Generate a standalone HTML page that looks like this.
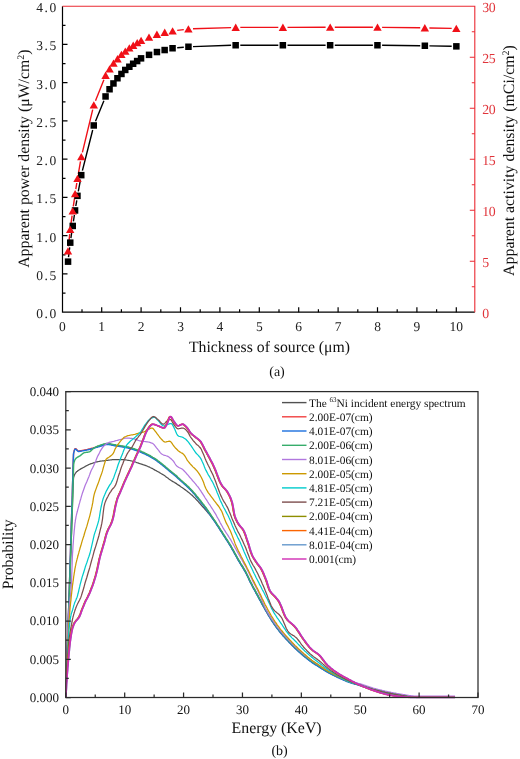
<!DOCTYPE html>
<html><head><meta charset="utf-8"><title>Figure</title>
<style>html,body{margin:0;padding:0;background:#fff}svg{display:block}</style></head>
<body>
<svg width="520" height="759" viewBox="0 0 520 759" text-rendering="geometricPrecision">
<rect width="520" height="759" fill="#fff"/>
<g stroke="#000" stroke-width="1.2" fill="none">
<path d="M62.5 6.2V312.2H474.8"/>
<path d="M62.5 293.07h3M62.5 273.95h5M62.5 254.82h3M62.5 235.70h5M62.5 216.57h3M62.5 197.45h5M62.5 178.32h3M62.5 159.20h5M62.5 140.07h3M62.5 120.95h5M62.5 101.82h3M62.5 82.70h5M62.5 63.57h3M62.5 44.45h5M62.5 25.32h3M82.00 312.2v-3M101.70 312.2v-5M121.40 312.2v-3M141.10 312.2v-5M160.80 312.2v-3M180.50 312.2v-5M200.20 312.2v-3M219.90 312.2v-5M239.60 312.2v-3M259.30 312.2v-5M279.00 312.2v-3M298.70 312.2v-5M318.40 312.2v-3M338.10 312.2v-5M357.80 312.2v-3M377.50 312.2v-5M397.20 312.2v-3M416.90 312.2v-5M436.60 312.2v-3M456.30 312.2v-5"/>
</g>
<g stroke="#ea2a33" stroke-width="1.1" fill="none">
<path d="M62.5 6.2H474.8V312.2"/>
<path d="M474.8 286.70h-3M474.8 261.20h-5M474.8 235.70h-3M474.8 210.20h-5M474.8 184.70h-3M474.8 159.20h-5M474.8 133.70h-3M474.8 108.20h-5M474.8 82.70h-3M474.8 57.20h-5M474.8 31.70h-3"/>
</g>
<g style="font-family:'Liberation Serif',serif;font-size:13.5px" fill="#222">
<text x="56.2" y="318.2" text-anchor="end">0<tspan dx="1.3">.</tspan><tspan dx="1.7">0</tspan></text>
<text x="56.2" y="279.9" text-anchor="end">0<tspan dx="1.3">.</tspan><tspan dx="1.7">5</tspan></text>
<text x="56.2" y="241.7" text-anchor="end">1<tspan dx="1.3">.</tspan><tspan dx="1.7">0</tspan></text>
<text x="56.2" y="203.4" text-anchor="end">1<tspan dx="1.3">.</tspan><tspan dx="1.7">5</tspan></text>
<text x="56.2" y="165.2" text-anchor="end">2<tspan dx="1.3">.</tspan><tspan dx="1.7">0</tspan></text>
<text x="56.2" y="126.9" text-anchor="end">2<tspan dx="1.3">.</tspan><tspan dx="1.7">5</tspan></text>
<text x="56.2" y="88.7" text-anchor="end">3<tspan dx="1.3">.</tspan><tspan dx="1.7">0</tspan></text>
<text x="56.2" y="50.4" text-anchor="end">3<tspan dx="1.3">.</tspan><tspan dx="1.7">5</tspan></text>
<text x="56.2" y="12.2" text-anchor="end">4<tspan dx="1.3">.</tspan><tspan dx="1.7">0</tspan></text>
<text x="62.3" y="330.5" text-anchor="middle">0</text>
<text x="101.7" y="330.5" text-anchor="middle">1</text>
<text x="141.1" y="330.5" text-anchor="middle">2</text>
<text x="180.5" y="330.5" text-anchor="middle">3</text>
<text x="219.9" y="330.5" text-anchor="middle">4</text>
<text x="259.3" y="330.5" text-anchor="middle">5</text>
<text x="298.7" y="330.5" text-anchor="middle">6</text>
<text x="338.1" y="330.5" text-anchor="middle">7</text>
<text x="377.5" y="330.5" text-anchor="middle">8</text>
<text x="416.9" y="330.5" text-anchor="middle">9</text>
<text x="456.3" y="330.5" text-anchor="middle">10</text>
</g>
<g style="font-family:'Liberation Serif',serif;font-size:13.8px" fill="#e0343a">
<text x="482.3" y="317.7" letter-spacing="-0.4">0</text>
<text x="482.3" y="266.7" letter-spacing="-0.4">5</text>
<text x="482.3" y="215.7" letter-spacing="-0.4">10</text>
<text x="482.3" y="164.7" letter-spacing="-0.4">15</text>
<text x="482.3" y="113.7" letter-spacing="-0.4">20</text>
<text x="482.3" y="62.7" letter-spacing="-0.4">25</text>
<text x="482.3" y="11.7" letter-spacing="-0.4">30</text>
</g>
<g style="font-family:'Liberation Serif',serif" fill="#111">
<text transform="translate(29.3 267.8) rotate(-90)" text-anchor="start" font-size="15.8">Apparent power density (μW/cm<tspan dy="-5" font-size="10">2</tspan><tspan dy="5">)</tspan></text>
<text transform="translate(514.1 275.9) rotate(-90)" text-anchor="start" font-size="15.85">Apparent activity density (mCi/cm<tspan dy="-5" font-size="10">2</tspan><tspan dy="5">)</tspan></text>
<text x="269.5" y="352.1" text-anchor="middle" font-size="15.75">Thickness of source (μm)</text>
<text x="277" y="375.8" text-anchor="middle" font-size="14">(a)</text>
</g>
<path d="M68.5 257.1L69.7 247.3M70.9 238.2L72.0 230.4M73.4 221.4L74.4 215.0M75.8 206.0L76.8 200.3M78.3 191.3L80.5 179.7M82.4 170.7L92.7 130.0M95.5 121.2L103.9 100.7M177.2 47.8L183.8 47.2M193.0 46.6L231.1 45.3M240.3 45.2L278.3 45.2M287.5 45.2L325.6 45.2M334.8 45.2L372.9 45.2M382.1 45.3L420.2 45.7M429.4 45.9L451.7 46.3" fill="none" stroke="#000" stroke-width="1.4"/>
<path d="M68.5 246.4L69.7 234.1M70.8 224.9L72.1 215.6M73.3 206.4L74.5 198.3M75.8 189.2L76.8 183.0M78.3 174.0L80.5 161.3M82.4 152.3L92.7 109.6M95.5 100.8L103.9 79.7M177.2 30.4L183.8 29.6M193.0 28.8L231.1 27.6M240.3 27.4L278.3 27.4M287.5 27.4L325.6 27.3M334.8 27.3L372.9 27.3M382.1 27.4L420.2 27.8M429.4 28.0L451.7 28.4" fill="none" stroke="#f01018" stroke-width="1.4"/>
<rect x="64.8" y="258.4" width="6.5" height="6.5" fill="#000"/>
<rect x="67.0" y="239.4" width="6.5" height="6.5" fill="#000"/>
<rect x="69.5" y="222.7" width="6.5" height="6.5" fill="#000"/>
<rect x="71.8" y="207.2" width="6.5" height="6.5" fill="#000"/>
<rect x="74.2" y="192.6" width="6.5" height="6.5" fill="#000"/>
<rect x="78.0" y="171.9" width="6.5" height="6.5" fill="#000"/>
<rect x="90.5" y="122.2" width="6.5" height="6.5" fill="#000"/>
<rect x="102.3" y="93.2" width="6.5" height="6.5" fill="#000"/>
<rect x="106.3" y="86.0" width="6.5" height="6.5" fill="#000"/>
<rect x="110.2" y="80.2" width="6.5" height="6.5" fill="#000"/>
<rect x="114.2" y="75.0" width="6.5" height="6.5" fill="#000"/>
<rect x="118.2" y="70.7" width="6.5" height="6.5" fill="#000"/>
<rect x="122.0" y="66.7" width="6.5" height="6.5" fill="#000"/>
<rect x="126.1" y="63.5" width="6.5" height="6.5" fill="#000"/>
<rect x="129.9" y="60.5" width="6.5" height="6.5" fill="#000"/>
<rect x="133.9" y="57.8" width="6.5" height="6.5" fill="#000"/>
<rect x="137.8" y="55.1" width="6.5" height="6.5" fill="#000"/>
<rect x="145.8" y="51.6" width="6.5" height="6.5" fill="#000"/>
<rect x="153.7" y="48.8" width="6.5" height="6.5" fill="#000"/>
<rect x="161.4" y="46.8" width="6.5" height="6.5" fill="#000"/>
<rect x="169.3" y="45.0" width="6.5" height="6.5" fill="#000"/>
<rect x="185.2" y="43.5" width="6.5" height="6.5" fill="#000"/>
<rect x="232.4" y="42.0" width="6.5" height="6.5" fill="#000"/>
<rect x="279.6" y="42.0" width="6.5" height="6.5" fill="#000"/>
<rect x="326.9" y="42.0" width="6.5" height="6.5" fill="#000"/>
<rect x="374.2" y="42.0" width="6.5" height="6.5" fill="#000"/>
<rect x="421.6" y="42.5" width="6.5" height="6.5" fill="#000"/>
<rect x="453.1" y="43.1" width="6.5" height="6.5" fill="#000"/>
<path d="M68.0 247.2L72.2 254.5H63.8Z" fill="#f01018"/>
<path d="M70.2 225.7L74.4 233.0H66.0Z" fill="#f01018"/>
<path d="M72.7 207.2L76.9 214.5H68.5Z" fill="#f01018"/>
<path d="M75.1 189.9L79.3 197.2H70.9Z" fill="#f01018"/>
<path d="M77.5 174.7L81.7 182.0H73.3Z" fill="#f01018"/>
<path d="M81.3 153.0L85.5 160.3H77.1Z" fill="#f01018"/>
<path d="M93.8 101.3L98.0 108.6H89.6Z" fill="#f01018"/>
<path d="M105.6 71.6L109.8 78.9H101.4Z" fill="#f01018"/>
<path d="M109.6 65.2L113.8 72.5H105.4Z" fill="#f01018"/>
<path d="M113.5 59.5L117.7 66.8H109.3Z" fill="#f01018"/>
<path d="M117.5 55.1L121.7 62.4H113.3Z" fill="#f01018"/>
<path d="M121.4 50.8L125.6 58.1H117.2Z" fill="#f01018"/>
<path d="M125.3 47.4L129.5 54.7H121.1Z" fill="#f01018"/>
<path d="M129.3 44.2L133.5 51.5H125.1Z" fill="#f01018"/>
<path d="M133.2 41.6L137.4 48.9H129.0Z" fill="#f01018"/>
<path d="M137.2 39.0L141.4 46.3H133.0Z" fill="#f01018"/>
<path d="M141.1 36.7L145.3 44.0H136.9Z" fill="#f01018"/>
<path d="M149.0 33.5L153.2 40.8H144.8Z" fill="#f01018"/>
<path d="M156.9 30.6L161.1 37.9H152.7Z" fill="#f01018"/>
<path d="M164.7 28.6L168.9 35.9H160.5Z" fill="#f01018"/>
<path d="M172.6 27.2L176.8 34.5H168.4Z" fill="#f01018"/>
<path d="M188.4 25.2L192.6 32.5H184.2Z" fill="#f01018"/>
<path d="M235.7 23.6L239.9 30.9H231.5Z" fill="#f01018"/>
<path d="M282.9 23.6L287.1 30.9H278.7Z" fill="#f01018"/>
<path d="M330.2 23.5L334.4 30.8H326.0Z" fill="#f01018"/>
<path d="M377.5 23.5L381.7 30.8H373.3Z" fill="#f01018"/>
<path d="M424.8 24.1L429.0 31.4H420.6Z" fill="#f01018"/>
<path d="M456.3 24.7L460.5 32.0H452.1Z" fill="#f01018"/>
<g style="font-family:'Liberation Serif',serif;font-size:13px" fill="#111">
<text x="59" y="701.9" text-anchor="end">0.000</text>
<text x="59" y="663.7" text-anchor="end">0.005</text>
<text x="59" y="625.4" text-anchor="end">0.010</text>
<text x="59" y="587.2" text-anchor="end">0.015</text>
<text x="59" y="548.9" text-anchor="end">0.020</text>
<text x="59" y="510.7" text-anchor="end">0.025</text>
<text x="59" y="472.5" text-anchor="end">0.030</text>
<text x="59" y="434.2" text-anchor="end">0.035</text>
<text x="59" y="396.0" text-anchor="end">0.040</text>
<text x="65.8" y="713.7" text-anchor="middle">0</text>
<text x="124.7" y="713.7" text-anchor="middle">10</text>
<text x="183.6" y="713.7" text-anchor="middle">20</text>
<text x="242.5" y="713.7" text-anchor="middle">30</text>
<text x="301.3" y="713.7" text-anchor="middle">40</text>
<text x="360.2" y="713.7" text-anchor="middle">50</text>
<text x="419.1" y="713.7" text-anchor="middle">60</text>
<text x="478.0" y="713.7" text-anchor="middle">70</text>
<text transform="translate(13 554.3) rotate(-90)" text-anchor="middle" font-size="15.75">Probability</text>
<text x="276.6" y="732.6" text-anchor="middle" font-size="15.9">Energy (KeV)</text>
<text x="279.6" y="754.5" text-anchor="middle" font-size="14">(b)</text>
</g>
<clipPath id="cb"><rect x="65.8" y="391.6" width="412.2" height="306.9"/></clipPath>
<g clip-path="url(#cb)" fill="none" stroke-linejoin="round">
<path d="M65.8 697.4 L66.0 690.6 L66.3 683.7 L66.5 676.9 L66.8 670.0 L67.0 663.2 L67.2 656.3 L67.5 649.5 L67.7 642.7 L68.0 635.8 L68.2 629.0 L68.4 622.1 L68.7 615.3 L68.9 608.5 L69.2 601.6 L69.4 594.8 L69.7 587.9 L69.9 581.1 L70.1 574.2 L70.4 567.4 L70.6 560.6 L70.9 553.7 L71.1 546.9 L71.3 540.0 L71.6 533.2 L71.8 526.3 L72.1 519.5 L72.3 512.7 L72.5 505.5 L72.8 497.1 L73.0 488.7 L73.3 482.0 L73.5 478.5 L73.7 477.2 L74.0 476.2 L74.2 475.5 L74.5 474.9 L74.7 474.4 L74.9 473.9 L75.2 473.5 L75.4 473.2 L75.7 472.9 L75.9 472.6 L76.1 472.3 L76.4 472.1 L76.6 471.8 L76.9 471.6 L77.1 471.4 L77.4 471.2 L77.6 471.0 L77.8 470.8 L78.1 470.6 L78.3 470.5 L78.6 470.3 L78.8 470.1 L79.0 470.0 L79.3 469.8 L79.5 469.7 L79.8 469.5 L80.0 469.4 L80.8 468.9 L81.5 468.5 L82.2 468.1 L83.0 467.7 L83.8 467.3 L84.5 466.9 L85.2 466.4 L86.0 466.0 L86.8 465.6 L87.5 465.3 L88.2 464.9 L89.0 464.5 L89.8 464.2 L90.5 463.9 L91.2 463.6 L92.0 463.4 L92.8 463.1 L93.5 462.8 L94.2 462.6 L95.0 462.4 L95.8 462.1 L96.5 461.9 L97.2 461.8 L98.0 461.6 L98.8 461.5 L99.5 461.3 L100.2 461.2 L101.0 461.1 L101.8 461.0 L102.5 460.9 L103.2 460.8 L104.0 460.8 L104.8 460.7 L105.5 460.6 L106.2 460.5 L107.0 460.4 L107.8 460.3 L108.5 460.2 L109.2 460.1 L110.0 460.0 L110.8 459.9 L111.5 459.8 L112.2 459.7 L113.0 459.6 L113.8 459.6 L114.5 459.6 L115.2 459.6 L116.0 459.6 L116.8 459.5 L117.5 459.5 L118.2 459.5 L119.0 459.5 L119.8 459.5 L120.5 459.5 L121.2 459.5 L122.0 459.5 L122.8 459.5 L123.5 459.6 L124.2 459.7 L125.0 459.8 L125.8 459.9 L126.5 460.0 L127.2 460.2 L128.0 460.3 L128.8 460.4 L129.5 460.5 L130.2 460.7 L131.0 460.8 L131.8 461.0 L132.5 461.2 L133.2 461.3 L134.0 461.6 L134.8 461.8 L135.5 462.0 L136.2 462.3 L137.0 462.6 L137.8 462.8 L138.5 463.1 L139.2 463.4 L140.0 463.7 L140.8 463.9 L141.5 464.2 L142.2 464.4 L143.0 464.7 L143.8 464.9 L144.5 465.2 L145.2 465.4 L146.0 465.7 L146.8 466.0 L147.5 466.3 L148.2 466.6 L149.0 466.9 L149.8 467.3 L150.5 467.7 L151.2 468.0 L152.0 468.4 L152.8 468.8 L153.5 469.2 L154.2 469.6 L155.0 470.1 L155.8 470.5 L156.5 470.9 L157.2 471.3 L158.0 471.7 L158.8 472.1 L159.5 472.6 L160.2 473.0 L161.0 473.5 L161.8 473.9 L162.5 474.4 L163.2 474.8 L164.0 475.3 L164.8 475.8 L165.5 476.4 L166.2 476.9 L167.0 477.5 L167.8 478.0 L168.5 478.6 L169.2 479.2 L170.0 479.7 L170.8 480.2 L171.5 480.7 L172.2 481.1 L173.0 481.6 L173.8 482.0 L174.5 482.5 L175.2 482.9 L176.0 483.4 L176.8 483.9 L177.5 484.4 L178.2 484.9 L179.0 485.4 L179.8 485.9 L180.5 486.5 L181.2 487.0 L182.0 487.5 L182.8 488.0 L183.5 488.6 L184.2 489.1 L185.0 489.6 L185.8 490.2 L186.5 490.8 L187.2 491.3 L188.0 491.9 L188.8 492.5 L189.5 493.1 L190.2 493.7 L191.0 494.4 L191.8 495.0 L192.5 495.7 L193.2 496.4 L194.0 497.2 L194.8 497.9 L195.5 498.7 L196.2 499.5 L197.0 500.3 L197.8 501.1 L198.5 501.9 L199.2 502.8 L200.0 503.6 L200.8 504.5 L201.5 505.3 L202.2 506.2 L203.0 507.0 L203.8 507.8 L204.5 508.7 L205.2 509.5 L206.0 510.4 L206.8 511.3 L207.5 512.1 L208.2 513.0 L209.0 513.9 L209.8 514.8 L210.5 515.7 L211.2 516.7 L212.0 517.6 L212.8 518.6 L213.5 519.6 L214.2 520.6 L215.0 521.7 L215.8 522.8 L216.5 523.9 L217.2 525.1 L218.0 526.2 L218.8 527.4 L219.5 528.6 L220.2 529.7 L221.0 530.9 L221.8 532.1 L222.5 533.3 L223.2 534.5 L224.0 535.7 L224.8 536.8 L225.5 538.0 L226.2 539.2 L227.0 540.3 L227.8 541.5 L228.5 542.7 L229.2 543.9 L230.0 545.2 L230.8 546.4 L231.5 547.7 L232.2 549.0 L233.0 550.3 L233.8 551.7 L234.5 553.1 L235.2 554.4 L236.0 555.8 L236.8 557.2 L237.5 558.5 L238.2 559.9 L239.0 561.2 L239.8 562.4 L240.5 563.7 L241.2 564.9 L242.0 566.1 L242.8 567.3 L243.5 568.5 L244.2 569.8 L245.0 571.1 L245.8 572.5 L246.5 573.9 L247.2 575.4 L248.0 577.0 L248.8 578.7 L249.5 580.3 L250.2 581.8 L251.0 583.3 L251.8 584.7 L252.5 586.2 L253.2 587.6 L254.0 589.0 L254.8 590.4 L255.5 591.7 L256.2 593.1 L257.0 594.5 L257.8 595.9 L258.5 597.3 L259.2 598.7 L260.0 600.1 L260.8 601.4 L261.5 602.8 L262.2 604.2 L263.0 605.6 L263.8 606.9 L264.5 608.2 L265.2 609.5 L266.0 610.8 L266.8 612.1 L267.5 613.4 L268.2 614.7 L269.0 615.9 L269.8 617.2 L270.5 618.4 L271.2 619.6 L272.0 620.8 L272.8 621.9 L273.5 623.0 L274.2 624.1 L275.0 625.2 L275.8 626.2 L276.5 627.3 L277.2 628.3 L278.0 629.3 L278.8 630.2 L279.5 631.2 L280.2 632.1 L281.0 633.0 L281.8 633.9 L282.5 634.8 L283.2 635.7 L284.0 636.5 L284.8 637.3 L285.5 638.1 L286.2 638.9 L287.0 639.7 L287.8 640.5 L288.5 641.3 L289.2 642.1 L290.0 642.9 L290.8 643.7 L291.5 644.4 L292.2 645.2 L293.0 646.0 L293.8 646.7 L294.5 647.5 L295.2 648.2 L296.0 648.9 L296.8 649.6 L297.5 650.3 L298.2 651.0 L299.0 651.7 L299.8 652.3 L300.5 653.0 L301.2 653.6 L302.0 654.3 L302.8 654.9 L303.5 655.6 L304.2 656.2 L305.0 656.8 L305.8 657.4 L306.5 658.0 L307.2 658.6 L308.0 659.2 L308.8 659.8 L309.5 660.3 L310.2 660.9 L311.0 661.4 L311.8 662.0 L312.5 662.5 L313.2 663.0 L314.0 663.5 L314.8 664.0 L315.5 664.5 L316.2 664.9 L317.0 665.4 L317.8 665.9 L318.5 666.4 L319.2 666.8 L320.0 667.3 L320.8 667.8 L321.5 668.3 L322.2 668.7 L323.0 669.2 L323.8 669.7 L324.5 670.1 L325.2 670.6 L326.0 671.0 L326.8 671.5 L327.5 671.9 L328.2 672.3 L329.0 672.7 L329.8 673.1 L330.5 673.5 L331.2 673.9 L332.0 674.3 L332.8 674.7 L333.5 675.0 L334.2 675.4 L335.0 675.8 L335.8 676.1 L336.5 676.5 L337.2 676.9 L338.0 677.2 L338.8 677.6 L339.5 677.9 L340.2 678.3 L341.0 678.6 L341.8 678.9 L342.5 679.3 L343.2 679.6 L344.0 679.9 L344.8 680.3 L345.5 680.6 L346.2 680.9 L347.0 681.2 L347.8 681.5 L348.5 681.8 L349.2 682.0 L350.0 682.3 L350.8 682.6 L351.5 682.8 L352.2 683.0 L353.0 683.3 L353.8 683.5 L354.5 683.7 L355.2 683.9 L356.0 684.1 L356.8 684.3 L357.5 684.5 L358.2 684.8 L359.0 685.0 L359.8 685.2 L360.5 685.4 L361.2 685.7 L362.0 685.9 L362.8 686.2 L363.5 686.4 L364.2 686.7 L365.0 686.9 L365.8 687.2 L366.5 687.4 L367.2 687.7 L368.0 687.9 L368.8 688.2 L369.5 688.4 L370.2 688.7 L371.0 688.9 L371.8 689.1 L372.5 689.4 L373.2 689.6 L374.0 689.8 L374.8 690.0 L375.5 690.2 L376.2 690.4 L377.0 690.6 L377.8 690.8 L378.5 691.0 L379.2 691.2 L380.0 691.4 L380.8 691.6 L381.5 691.7 L382.2 691.9 L383.0 692.1 L383.8 692.3 L384.5 692.4 L385.2 692.6 L386.0 692.8 L386.8 692.9 L387.5 693.1 L388.2 693.3 L389.0 693.4 L389.8 693.6 L390.5 693.7 L391.2 693.9 L392.0 694.0 L392.8 694.2 L393.5 694.3 L394.2 694.5 L395.0 694.6 L395.8 694.7 L396.5 694.9 L397.2 695.0 L398.0 695.1 L398.8 695.3 L399.5 695.4 L400.2 695.5 L401.0 695.6 L401.8 695.8 L402.5 695.9 L403.2 696.0 L404.0 696.1 L404.8 696.2 L405.5 696.4 L406.2 696.5 L407.0 696.6 L407.8 696.8 L408.5 696.9 L409.2 697.0 L410.0 697.1 L410.8 697.2 L411.5 697.3 L412.2 697.4 L413.0 697.4 L413.8 697.4 L414.5 697.4 L415.2 697.4 L416.0 697.4 L416.8 697.4 L417.5 697.4 L418.2 697.4 L419.0 697.4 L419.8 697.4 L420.5 697.4 L421.2 697.4 L422.0 697.4 L422.8 697.4 L423.5 697.4 L424.2 697.4 L425.0 697.4 L425.8 697.4 L426.5 697.4 L427.2 697.4 L428.0 697.4 L428.8 697.4 L429.5 697.4 L430.2 697.4 L431.0 697.4 L431.8 697.4 L432.5 697.4 L433.2 697.4 L434.0 697.4 L434.8 697.4 L435.5 697.4 L436.2 697.4 L437.0 697.4 L437.8 697.4 L438.5 697.4 L439.2 697.4 L440.0 697.4 L440.8 697.4 L441.5 697.4 L442.2 697.4 L443.0 697.4 L443.8 697.4 L444.5 697.4 L445.2 697.4 L446.0 697.4 L446.8 697.4 L447.5 697.4 L448.2 697.4 L449.0 697.4 L449.8 697.4 L450.5 697.4 L451.2 697.4 L452.0 697.4 L452.8 697.4 L453.5 697.4 L454.2 697.4 L455.0 697.4" stroke="#515151" stroke-width="1.25"/>
<path d="M65.8 697.4 L66.0 690.0 L66.3 682.4 L66.5 674.9 L66.8 667.3 L67.0 659.8 L67.2 652.3 L67.5 644.7 L67.7 637.2 L68.0 629.6 L68.2 622.1 L68.4 614.5 L68.7 607.0 L68.9 599.5 L69.2 591.9 L69.4 584.4 L69.7 576.8 L69.9 569.3 L70.1 561.8 L70.4 554.2 L70.6 546.7 L70.9 539.1 L71.1 531.6 L71.3 524.1 L71.6 516.5 L71.8 509.0 L72.1 501.4 L72.3 493.9 L72.5 486.3 L72.8 477.3 L73.0 467.7 L73.3 459.4 L73.5 454.0 L73.7 452.4 L74.0 451.4 L74.2 450.5 L74.5 449.8 L74.7 449.3 L74.9 448.9 L75.2 448.7 L75.4 448.6 L75.7 448.6 L75.9 448.8 L76.1 448.9 L76.4 449.2 L76.6 449.4 L76.9 449.7 L77.1 449.9 L77.4 450.2 L77.6 450.4 L77.8 450.6 L78.1 450.8 L78.3 450.9 L78.6 450.9 L78.8 450.9 L79.0 450.9 L79.3 450.9 L79.5 450.9 L79.8 450.8 L80.0 450.8 L80.8 450.7 L81.5 450.6 L82.2 450.4 L83.0 450.3 L83.8 450.1 L84.5 450.0 L85.2 449.9 L86.0 449.7 L86.8 449.6 L87.5 449.4 L88.2 449.2 L89.0 449.0 L89.8 448.9 L90.5 448.7 L91.2 448.5 L92.0 448.3 L92.8 448.1 L93.5 447.8 L94.2 447.6 L95.0 447.4 L95.8 447.1 L96.5 446.9 L97.2 446.7 L98.0 446.4 L98.8 446.2 L99.5 446.0 L100.2 445.8 L101.0 445.5 L101.8 445.2 L102.5 445.0 L103.2 444.7 L104.0 444.5 L104.8 444.3 L105.5 444.1 L106.2 444.0 L107.0 443.9 L107.8 443.9 L108.5 443.9 L109.2 444.0 L110.0 444.2 L110.8 444.4 L111.5 444.6 L112.2 444.8 L113.0 444.9 L113.8 445.1 L114.5 445.2 L115.2 445.3 L116.0 445.5 L116.8 445.6 L117.5 445.7 L118.2 445.8 L119.0 445.9 L119.8 446.0 L120.5 446.1 L121.2 446.3 L122.0 446.4 L122.8 446.5 L123.5 446.6 L124.2 446.8 L125.0 446.9 L125.8 447.1 L126.5 447.2 L127.2 447.4 L128.0 447.5 L128.8 447.7 L129.5 447.9 L130.2 448.1 L131.0 448.3 L131.8 448.5 L132.5 448.7 L133.2 449.0 L134.0 449.2 L134.8 449.5 L135.5 449.7 L136.2 450.0 L137.0 450.3 L137.8 450.6 L138.5 450.9 L139.2 451.1 L140.0 451.4 L140.8 451.7 L141.5 452.0 L142.2 452.4 L143.0 452.7 L143.8 453.0 L144.5 453.4 L145.2 453.7 L146.0 454.1 L146.8 454.5 L147.5 454.8 L148.2 455.2 L149.0 455.6 L149.8 456.0 L150.5 456.4 L151.2 456.9 L152.0 457.3 L152.8 457.8 L153.5 458.2 L154.2 458.7 L155.0 459.2 L155.8 459.7 L156.5 460.2 L157.2 460.7 L158.0 461.3 L158.8 461.8 L159.5 462.4 L160.2 463.0 L161.0 463.6 L161.8 464.2 L162.5 464.8 L163.2 465.4 L164.0 466.0 L164.8 466.6 L165.5 467.3 L166.2 467.9 L167.0 468.5 L167.8 469.2 L168.5 469.8 L169.2 470.5 L170.0 471.1 L170.8 471.7 L171.5 472.3 L172.2 472.9 L173.0 473.5 L173.8 474.1 L174.5 474.7 L175.2 475.3 L176.0 475.9 L176.8 476.6 L177.5 477.4 L178.2 478.1 L179.0 478.8 L179.8 479.5 L180.5 480.2 L181.2 480.8 L182.0 481.5 L182.8 482.2 L183.5 482.8 L184.2 483.5 L185.0 484.2 L185.8 484.8 L186.5 485.5 L187.2 486.2 L188.0 486.9 L188.8 487.6 L189.5 488.4 L190.2 489.1 L191.0 489.9 L191.8 490.7 L192.5 491.5 L193.2 492.4 L194.0 493.3 L194.8 494.1 L195.5 495.0 L196.2 496.0 L197.0 496.9 L197.8 497.8 L198.5 498.7 L199.2 499.7 L200.0 500.6 L200.8 501.5 L201.5 502.5 L202.2 503.4 L203.0 504.4 L203.8 505.3 L204.5 506.3 L205.2 507.3 L206.0 508.3 L206.8 509.4 L207.5 510.4 L208.2 511.5 L209.0 512.7 L209.8 513.8 L210.5 514.9 L211.2 516.0 L212.0 517.2 L212.8 518.3 L213.5 519.3 L214.2 520.4 L215.0 521.5 L215.8 522.6 L216.5 523.8 L217.2 524.9 L218.0 526.1 L218.8 527.2 L219.5 528.4 L220.2 529.6 L221.0 530.8 L221.8 531.9 L222.5 533.1 L223.2 534.3 L224.0 535.5 L224.8 536.6 L225.5 537.8 L226.2 539.0 L227.0 540.1 L227.8 541.3 L228.5 542.5 L229.2 543.7 L230.0 545.0 L230.8 546.2 L231.5 547.5 L232.2 548.8 L233.0 550.1 L233.8 551.5 L234.5 552.9 L235.2 554.2 L236.0 555.6 L236.8 557.0 L237.5 558.3 L238.2 559.7 L239.0 561.0 L239.8 562.2 L240.5 563.5 L241.2 564.7 L242.0 565.9 L242.8 567.1 L243.5 568.3 L244.2 569.6 L245.0 570.9 L245.8 572.3 L246.5 573.7 L247.2 575.2 L248.0 576.8 L248.8 578.5 L249.5 580.1 L250.2 581.6 L251.0 583.1 L251.8 584.5 L252.5 586.0 L253.2 587.4 L254.0 588.8 L254.8 590.2 L255.5 591.5 L256.2 592.9 L257.0 594.3 L257.8 595.7 L258.5 597.1 L259.2 598.5 L260.0 599.9 L260.8 601.2 L261.5 602.6 L262.2 604.0 L263.0 605.4 L263.8 606.7 L264.5 608.0 L265.2 609.3 L266.0 610.6 L266.8 611.9 L267.5 613.2 L268.2 614.5 L269.0 615.7 L269.8 617.0 L270.5 618.2 L271.2 619.4 L272.0 620.6 L272.8 621.7 L273.5 622.8 L274.2 623.9 L275.0 625.0 L275.8 626.0 L276.5 627.1 L277.2 628.1 L278.0 629.1 L278.8 630.0 L279.5 631.0 L280.2 631.9 L281.0 632.8 L281.8 633.7 L282.5 634.6 L283.2 635.5 L284.0 636.3 L284.8 637.1 L285.5 637.9 L286.2 638.7 L287.0 639.5 L287.8 640.3 L288.5 641.1 L289.2 641.9 L290.0 642.7 L290.8 643.5 L291.5 644.2 L292.2 645.0 L293.0 645.8 L293.8 646.5 L294.5 647.3 L295.2 648.0 L296.0 648.7 L296.8 649.4 L297.5 650.1 L298.2 650.8 L299.0 651.5 L299.8 652.1 L300.5 652.8 L301.2 653.4 L302.0 654.1 L302.8 654.7 L303.5 655.4 L304.2 656.0 L305.0 656.6 L305.8 657.2 L306.5 657.8 L307.2 658.4 L308.0 659.0 L308.8 659.6 L309.5 660.1 L310.2 660.7 L311.0 661.2 L311.8 661.8 L312.5 662.3 L313.2 662.8 L314.0 663.3 L314.8 663.8 L315.5 664.3 L316.2 664.7 L317.0 665.2 L317.8 665.7 L318.5 666.2 L319.2 666.6 L320.0 667.1 L320.8 667.6 L321.5 668.1 L322.2 668.5 L323.0 669.0 L323.8 669.5 L324.5 669.9 L325.2 670.4 L326.0 670.8 L326.8 671.3 L327.5 671.7 L328.2 672.1 L329.0 672.5 L329.8 672.9 L330.5 673.3 L331.2 673.7 L332.0 674.1 L332.8 674.5 L333.5 674.8 L334.2 675.2 L335.0 675.6 L335.8 675.9 L336.5 676.3 L337.2 676.7 L338.0 677.0 L338.8 677.4 L339.5 677.7 L340.2 678.1 L341.0 678.4 L341.8 678.7 L342.5 679.1 L343.2 679.4 L344.0 679.7 L344.8 680.1 L345.5 680.4 L346.2 680.7 L347.0 681.0 L347.8 681.3 L348.5 681.6 L349.2 681.8 L350.0 682.1 L350.8 682.4 L351.5 682.6 L352.2 682.8 L353.0 683.1 L353.8 683.3 L354.5 683.5 L355.2 683.7 L356.0 683.9 L356.8 684.1 L357.5 684.3 L358.2 684.6 L359.0 684.8 L359.8 685.0 L360.5 685.2 L361.2 685.5 L362.0 685.7 L362.8 686.0 L363.5 686.2 L364.2 686.5 L365.0 686.7 L365.8 687.0 L366.5 687.2 L367.2 687.5 L368.0 687.7 L368.8 688.0 L369.5 688.2 L370.2 688.5 L371.0 688.7 L371.8 688.9 L372.5 689.2 L373.2 689.4 L374.0 689.6 L374.8 689.8 L375.5 690.0 L376.2 690.2 L377.0 690.4 L377.8 690.6 L378.5 690.8 L379.2 691.0 L380.0 691.2 L380.8 691.4 L381.5 691.5 L382.2 691.7 L383.0 691.9 L383.8 692.1 L384.5 692.2 L385.2 692.4 L386.0 692.6 L386.8 692.7 L387.5 692.9 L388.2 693.1 L389.0 693.2 L389.8 693.4 L390.5 693.5 L391.2 693.7 L392.0 693.8 L392.8 694.0 L393.5 694.1 L394.2 694.3 L395.0 694.4 L395.8 694.5 L396.5 694.7 L397.2 694.8 L398.0 694.9 L398.8 695.1 L399.5 695.2 L400.2 695.3 L401.0 695.4 L401.8 695.6 L402.5 695.7 L403.2 695.8 L404.0 695.9 L404.8 696.0 L405.5 696.2 L406.2 696.3 L407.0 696.4 L407.8 696.6 L408.5 696.7 L409.2 696.8 L410.0 696.9 L410.8 697.0 L411.5 697.1 L412.2 697.2 L413.0 697.2 L413.8 697.3 L414.5 697.3 L415.2 697.3 L416.0 697.4 L416.8 697.4 L417.5 697.4 L418.2 697.4 L419.0 697.4 L419.8 697.4 L420.5 697.4 L421.2 697.4 L422.0 697.4 L422.8 697.4 L423.5 697.4 L424.2 697.4 L425.0 697.4 L425.8 697.4 L426.5 697.4 L427.2 697.4 L428.0 697.4 L428.8 697.4 L429.5 697.4 L430.2 697.4 L431.0 697.4 L431.8 697.4 L432.5 697.4 L433.2 697.4 L434.0 697.4 L434.8 697.4 L435.5 697.4 L436.2 697.4 L437.0 697.4 L437.8 697.4 L438.5 697.4 L439.2 697.4 L440.0 697.4 L440.8 697.4 L441.5 697.4 L442.2 697.4 L443.0 697.4 L443.8 697.4 L444.5 697.4 L445.2 697.4 L446.0 697.4 L446.8 697.4 L447.5 697.4 L448.2 697.4 L449.0 697.4 L449.8 697.4 L450.5 697.4 L451.2 697.4 L452.0 697.4 L452.8 697.4 L453.5 697.4 L454.2 697.4 L455.0 697.4" stroke="#F14040" stroke-width="1.45"/>
<path d="M65.8 697.4 L66.0 690.5 L66.3 682.9 L66.5 675.4 L66.8 667.8 L67.0 660.3 L67.2 652.8 L67.5 645.2 L67.7 637.7 L68.0 630.1 L68.2 622.6 L68.4 615.0 L68.7 607.5 L68.9 600.0 L69.2 592.4 L69.4 584.9 L69.7 577.3 L69.9 569.8 L70.1 562.3 L70.4 554.7 L70.6 547.2 L70.9 539.6 L71.1 532.1 L71.3 524.6 L71.6 517.0 L71.8 509.5 L72.1 501.9 L72.3 494.4 L72.5 486.8 L72.8 477.8 L73.0 468.2 L73.3 459.9 L73.5 454.5 L73.7 452.9 L74.0 451.9 L74.2 451.0 L74.5 450.3 L74.7 449.8 L74.9 449.4 L75.2 449.2 L75.4 449.1 L75.7 449.1 L75.9 449.3 L76.1 449.4 L76.4 449.7 L76.6 449.9 L76.9 450.2 L77.1 450.4 L77.4 450.7 L77.6 450.9 L77.8 451.1 L78.1 451.3 L78.3 451.4 L78.6 451.4 L78.8 451.4 L79.0 451.4 L79.3 451.4 L79.5 451.4 L79.8 451.3 L80.0 451.3 L80.8 451.2 L81.5 451.1 L82.2 450.9 L83.0 450.8 L83.8 450.6 L84.5 450.5 L85.2 450.4 L86.0 450.2 L86.8 450.1 L87.5 449.9 L88.2 449.7 L89.0 449.5 L89.8 449.4 L90.5 449.2 L91.2 449.0 L92.0 448.8 L92.8 448.6 L93.5 448.3 L94.2 448.1 L95.0 447.9 L95.8 447.6 L96.5 447.4 L97.2 447.2 L98.0 446.9 L98.8 446.7 L99.5 446.5 L100.2 446.3 L101.0 446.0 L101.8 445.7 L102.5 445.5 L103.2 445.2 L104.0 445.0 L104.8 444.8 L105.5 444.6 L106.2 444.5 L107.0 444.4 L107.8 444.4 L108.5 444.4 L109.2 444.5 L110.0 444.7 L110.8 444.9 L111.5 445.1 L112.2 445.3 L113.0 445.4 L113.8 445.6 L114.5 445.7 L115.2 445.8 L116.0 446.0 L116.8 446.1 L117.5 446.2 L118.2 446.3 L119.0 446.4 L119.8 446.5 L120.5 446.6 L121.2 446.8 L122.0 446.9 L122.8 447.0 L123.5 447.1 L124.2 447.3 L125.0 447.4 L125.8 447.6 L126.5 447.7 L127.2 447.9 L128.0 448.0 L128.8 448.2 L129.5 448.4 L130.2 448.6 L131.0 448.8 L131.8 449.0 L132.5 449.2 L133.2 449.5 L134.0 449.7 L134.8 450.0 L135.5 450.2 L136.2 450.5 L137.0 450.8 L137.8 451.1 L138.5 451.4 L139.2 451.6 L140.0 451.9 L140.8 452.2 L141.5 452.5 L142.2 452.9 L143.0 453.2 L143.8 453.5 L144.5 453.9 L145.2 454.2 L146.0 454.6 L146.8 455.0 L147.5 455.3 L148.2 455.7 L149.0 456.1 L149.8 456.5 L150.5 456.9 L151.2 457.4 L152.0 457.8 L152.8 458.3 L153.5 458.7 L154.2 459.2 L155.0 459.7 L155.8 460.2 L156.5 460.7 L157.2 461.2 L158.0 461.8 L158.8 462.3 L159.5 462.9 L160.2 463.5 L161.0 464.1 L161.8 464.7 L162.5 465.3 L163.2 465.9 L164.0 466.5 L164.8 467.1 L165.5 467.8 L166.2 468.4 L167.0 469.0 L167.8 469.7 L168.5 470.3 L169.2 471.0 L170.0 471.6 L170.8 472.2 L171.5 472.8 L172.2 473.4 L173.0 474.0 L173.8 474.6 L174.5 475.2 L175.2 475.8 L176.0 476.4 L176.8 477.1 L177.5 477.9 L178.2 478.6 L179.0 479.3 L179.8 480.0 L180.5 480.7 L181.2 481.3 L182.0 482.0 L182.8 482.7 L183.5 483.3 L184.2 484.0 L185.0 484.7 L185.8 485.3 L186.5 486.0 L187.2 486.7 L188.0 487.4 L188.8 488.1 L189.5 488.9 L190.2 489.6 L191.0 490.4 L191.8 491.2 L192.5 492.0 L193.2 492.9 L194.0 493.8 L194.8 494.6 L195.5 495.5 L196.2 496.5 L197.0 497.4 L197.8 498.3 L198.5 499.2 L199.2 500.2 L200.0 501.1 L200.8 502.0 L201.5 503.0 L202.2 503.9 L203.0 504.9 L203.8 505.8 L204.5 506.8 L205.2 507.8 L206.0 508.8 L206.8 509.9 L207.5 510.9 L208.2 512.0 L209.0 513.2 L209.8 514.3 L210.5 515.4 L211.2 516.5 L212.0 517.7 L212.8 518.8 L213.5 519.8 L214.2 520.9 L215.0 522.0 L215.8 523.1 L216.5 524.3 L217.2 525.4 L218.0 526.6 L218.8 527.7 L219.5 528.9 L220.2 530.1 L221.0 531.3 L221.8 532.4 L222.5 533.6 L223.2 534.8 L224.0 536.0 L224.8 537.1 L225.5 538.3 L226.2 539.5 L227.0 540.6 L227.8 541.8 L228.5 543.0 L229.2 544.2 L230.0 545.5 L230.8 546.7 L231.5 548.0 L232.2 549.3 L233.0 550.6 L233.8 552.0 L234.5 553.4 L235.2 554.7 L236.0 556.1 L236.8 557.5 L237.5 558.8 L238.2 560.2 L239.0 561.5 L239.8 562.7 L240.5 564.0 L241.2 565.2 L242.0 566.4 L242.8 567.6 L243.5 568.8 L244.2 570.1 L245.0 571.4 L245.8 572.8 L246.5 574.2 L247.2 575.7 L248.0 577.3 L248.8 579.0 L249.5 580.6 L250.2 582.1 L251.0 583.6 L251.8 585.0 L252.5 586.5 L253.2 587.9 L254.0 589.3 L254.8 590.7 L255.5 592.0 L256.2 593.4 L257.0 594.8 L257.8 596.2 L258.5 597.6 L259.2 599.0 L260.0 600.4 L260.8 601.7 L261.5 603.1 L262.2 604.5 L263.0 605.9 L263.8 607.2 L264.5 608.5 L265.2 609.8 L266.0 611.1 L266.8 612.4 L267.5 613.7 L268.2 615.0 L269.0 616.2 L269.8 617.5 L270.5 618.7 L271.2 619.9 L272.0 621.1 L272.8 622.2 L273.5 623.3 L274.2 624.4 L275.0 625.5 L275.8 626.5 L276.5 627.6 L277.2 628.6 L278.0 629.6 L278.8 630.5 L279.5 631.5 L280.2 632.4 L281.0 633.3 L281.8 634.2 L282.5 635.1 L283.2 636.0 L284.0 636.8 L284.8 637.6 L285.5 638.4 L286.2 639.2 L287.0 640.0 L287.8 640.8 L288.5 641.6 L289.2 642.4 L290.0 643.2 L290.8 644.0 L291.5 644.7 L292.2 645.5 L293.0 646.3 L293.8 647.0 L294.5 647.8 L295.2 648.5 L296.0 649.2 L296.8 649.9 L297.5 650.6 L298.2 651.3 L299.0 652.0 L299.8 652.6 L300.5 653.3 L301.2 653.9 L302.0 654.6 L302.8 655.2 L303.5 655.9 L304.2 656.5 L305.0 657.1 L305.8 657.7 L306.5 658.3 L307.2 658.9 L308.0 659.5 L308.8 660.1 L309.5 660.6 L310.2 661.2 L311.0 661.7 L311.8 662.3 L312.5 662.8 L313.2 663.3 L314.0 663.8 L314.8 664.3 L315.5 664.8 L316.2 665.2 L317.0 665.7 L317.8 666.2 L318.5 666.7 L319.2 667.1 L320.0 667.6 L320.8 668.1 L321.5 668.6 L322.2 669.0 L323.0 669.5 L323.8 670.0 L324.5 670.4 L325.2 670.9 L326.0 671.3 L326.8 671.8 L327.5 672.2 L328.2 672.6 L329.0 673.0 L329.8 673.4 L330.5 673.8 L331.2 674.2 L332.0 674.6 L332.8 675.0 L333.5 675.3 L334.2 675.7 L335.0 676.1 L335.8 676.4 L336.5 676.8 L337.2 677.2 L338.0 677.5 L338.8 677.9 L339.5 678.2 L340.2 678.6 L341.0 678.9 L341.8 679.2 L342.5 679.6 L343.2 679.9 L344.0 680.2 L344.8 680.6 L345.5 680.9 L346.2 681.2 L347.0 681.5 L347.8 681.8 L348.5 682.1 L349.2 682.3 L350.0 682.6 L350.8 682.9 L351.5 683.1 L352.2 683.3 L353.0 683.6 L353.8 683.8 L354.5 684.0 L355.2 684.2 L356.0 684.4 L356.8 684.6 L357.5 684.8 L358.2 685.1 L359.0 685.3 L359.8 685.5 L360.5 685.7 L361.2 686.0 L362.0 686.2 L362.8 686.5 L363.5 686.7 L364.2 687.0 L365.0 687.2 L365.8 687.5 L366.5 687.7 L367.2 688.0 L368.0 688.2 L368.8 688.5 L369.5 688.7 L370.2 689.0 L371.0 689.2 L371.8 689.4 L372.5 689.7 L373.2 689.9 L374.0 690.1 L374.8 690.3 L375.5 690.5 L376.2 690.7 L377.0 690.9 L377.8 691.1 L378.5 691.3 L379.2 691.5 L380.0 691.7 L380.8 691.9 L381.5 692.0 L382.2 692.2 L383.0 692.4 L383.8 692.6 L384.5 692.7 L385.2 692.9 L386.0 693.1 L386.8 693.2 L387.5 693.4 L388.2 693.6 L389.0 693.7 L389.8 693.9 L390.5 694.0 L391.2 694.2 L392.0 694.3 L392.8 694.5 L393.5 694.6 L394.2 694.8 L395.0 694.9 L395.8 695.0 L396.5 695.2 L397.2 695.3 L398.0 695.4 L398.8 695.6 L399.5 695.7 L400.2 695.8 L401.0 695.9 L401.8 696.1 L402.5 696.2 L403.2 696.3 L404.0 696.4 L404.8 696.5 L405.5 696.7 L406.2 696.8 L407.0 696.9 L407.8 697.1 L408.5 697.2 L409.2 697.3 L410.0 697.4 L410.8 697.4 L411.5 697.4 L412.2 697.4 L413.0 697.4 L413.8 697.4 L414.5 697.4 L415.2 697.4 L416.0 697.4 L416.8 697.4 L417.5 697.4 L418.2 697.4 L419.0 697.4 L419.8 697.4 L420.5 697.4 L421.2 697.4 L422.0 697.4 L422.8 697.4 L423.5 697.4 L424.2 697.4 L425.0 697.4 L425.8 697.4 L426.5 697.4 L427.2 697.4 L428.0 697.4 L428.8 697.4 L429.5 697.4 L430.2 697.4 L431.0 697.4 L431.8 697.4 L432.5 697.4 L433.2 697.4 L434.0 697.4 L434.8 697.4 L435.5 697.4 L436.2 697.4 L437.0 697.4 L437.8 697.4 L438.5 697.4 L439.2 697.4 L440.0 697.4 L440.8 697.4 L441.5 697.4 L442.2 697.4 L443.0 697.4 L443.8 697.4 L444.5 697.4 L445.2 697.4 L446.0 697.4 L446.8 697.4 L447.5 697.4 L448.2 697.4 L449.0 697.4 L449.8 697.4 L450.5 697.4 L451.2 697.4 L452.0 697.4 L452.8 697.4 L453.5 697.4 L454.2 697.4 L455.0 697.4" stroke="#1A6FDF" stroke-width="1.45"/>
<path d="M65.8 697.0 L66.0 690.0 L66.3 683.0 L66.5 675.9 L66.8 668.9 L67.0 661.9 L67.2 654.9 L67.5 647.8 L67.7 640.8 L68.0 633.8 L68.2 626.8 L68.4 619.8 L68.7 612.7 L68.9 605.7 L69.2 598.7 L69.4 591.7 L69.7 584.7 L69.9 577.6 L70.1 570.6 L70.4 563.6 L70.6 556.6 L70.9 549.5 L71.1 542.5 L71.3 535.5 L71.6 528.5 L71.8 521.5 L72.1 514.4 L72.3 507.4 L72.5 500.4 L72.8 493.1 L73.0 484.5 L73.3 475.7 L73.5 468.4 L73.7 464.0 L74.0 462.7 L74.2 461.7 L74.5 460.9 L74.7 460.3 L74.9 459.8 L75.2 459.4 L75.4 459.0 L75.7 458.7 L75.9 458.5 L76.1 458.2 L76.4 458.0 L76.6 457.8 L76.9 457.6 L77.1 457.4 L77.4 457.3 L77.6 457.1 L77.8 457.0 L78.1 456.9 L78.3 456.8 L78.6 456.6 L78.8 456.5 L79.0 456.4 L79.3 456.2 L79.5 456.1 L79.8 456.0 L80.0 455.8 L80.8 455.2 L81.5 454.6 L82.2 454.0 L83.0 453.4 L83.8 452.9 L84.5 452.6 L85.2 452.5 L86.0 452.4 L86.8 452.3 L87.5 452.2 L88.2 452.1 L89.0 451.9 L89.8 451.7 L90.5 451.2 L91.2 450.5 L92.0 449.7 L92.8 448.9 L93.5 448.3 L94.2 447.8 L95.0 447.4 L95.8 447.0 L96.5 446.6 L97.2 446.3 L98.0 446.0 L98.8 445.7 L99.5 445.4 L100.2 445.2 L101.0 444.9 L101.8 444.6 L102.5 444.4 L103.2 444.2 L104.0 443.9 L104.8 443.8 L105.5 443.6 L106.2 443.5 L107.0 443.4 L107.8 443.4 L108.5 443.4 L109.2 443.5 L110.0 443.7 L110.8 443.9 L111.5 444.1 L112.2 444.3 L113.0 444.4 L113.8 444.6 L114.5 444.7 L115.2 444.8 L116.0 445.0 L116.8 445.1 L117.5 445.2 L118.2 445.3 L119.0 445.4 L119.8 445.5 L120.5 445.6 L121.2 445.8 L122.0 445.9 L122.8 446.0 L123.5 446.1 L124.2 446.3 L125.0 446.4 L125.8 446.6 L126.5 446.7 L127.2 446.9 L128.0 447.0 L128.8 447.2 L129.5 447.4 L130.2 447.6 L131.0 447.8 L131.8 448.0 L132.5 448.2 L133.2 448.5 L134.0 448.7 L134.8 449.0 L135.5 449.2 L136.2 449.5 L137.0 449.8 L137.8 450.1 L138.5 450.4 L139.2 450.6 L140.0 450.9 L140.8 451.2 L141.5 451.5 L142.2 451.9 L143.0 452.2 L143.8 452.5 L144.5 452.9 L145.2 453.2 L146.0 453.6 L146.8 454.0 L147.5 454.3 L148.2 454.7 L149.0 455.1 L149.8 455.5 L150.5 455.9 L151.2 456.4 L152.0 456.8 L152.8 457.3 L153.5 457.7 L154.2 458.2 L155.0 458.7 L155.8 459.2 L156.5 459.7 L157.2 460.2 L158.0 460.8 L158.8 461.3 L159.5 461.9 L160.2 462.5 L161.0 463.1 L161.8 463.7 L162.5 464.3 L163.2 464.9 L164.0 465.5 L164.8 466.1 L165.5 466.8 L166.2 467.4 L167.0 468.0 L167.8 468.7 L168.5 469.3 L169.2 470.0 L170.0 470.6 L170.8 471.2 L171.5 471.8 L172.2 472.4 L173.0 473.0 L173.8 473.6 L174.5 474.2 L175.2 474.8 L176.0 475.4 L176.8 476.1 L177.5 476.9 L178.2 477.6 L179.0 478.3 L179.8 479.0 L180.5 479.7 L181.2 480.3 L182.0 481.0 L182.8 481.7 L183.5 482.3 L184.2 483.0 L185.0 483.7 L185.8 484.3 L186.5 485.0 L187.2 485.7 L188.0 486.4 L188.8 487.1 L189.5 487.9 L190.2 488.6 L191.0 489.4 L191.8 490.2 L192.5 491.0 L193.2 491.9 L194.0 492.8 L194.8 493.6 L195.5 494.5 L196.2 495.5 L197.0 496.4 L197.8 497.3 L198.5 498.2 L199.2 499.2 L200.0 500.1 L200.8 501.0 L201.5 502.0 L202.2 502.9 L203.0 503.9 L203.8 504.8 L204.5 505.8 L205.2 506.8 L206.0 507.8 L206.8 508.9 L207.5 509.9 L208.2 511.0 L209.0 512.2 L209.8 513.3 L210.5 514.4 L211.2 515.5 L212.0 516.7 L212.8 517.8 L213.5 518.8 L214.2 519.9 L215.0 521.0 L215.8 522.1 L216.5 523.3 L217.2 524.4 L218.0 525.6 L218.8 526.7 L219.5 527.9 L220.2 529.1 L221.0 530.3 L221.8 531.4 L222.5 532.6 L223.2 533.8 L224.0 535.0 L224.8 536.1 L225.5 537.3 L226.2 538.5 L227.0 539.6 L227.8 540.8 L228.5 542.0 L229.2 543.2 L230.0 544.5 L230.8 545.7 L231.5 547.0 L232.2 548.3 L233.0 549.6 L233.8 551.0 L234.5 552.4 L235.2 553.7 L236.0 555.1 L236.8 556.5 L237.5 557.8 L238.2 559.2 L239.0 560.5 L239.8 561.7 L240.5 563.0 L241.2 564.2 L242.0 565.4 L242.8 566.6 L243.5 567.8 L244.2 569.1 L245.0 570.4 L245.8 571.8 L246.5 573.2 L247.2 574.7 L248.0 576.3 L248.8 578.0 L249.5 579.6 L250.2 581.1 L251.0 582.6 L251.8 584.0 L252.5 585.5 L253.2 586.9 L254.0 588.3 L254.8 589.7 L255.5 591.0 L256.2 592.4 L257.0 593.8 L257.8 595.2 L258.5 596.6 L259.2 598.0 L260.0 599.4 L260.8 600.7 L261.5 602.1 L262.2 603.5 L263.0 604.9 L263.8 606.2 L264.5 607.5 L265.2 608.8 L266.0 610.1 L266.8 611.4 L267.5 612.7 L268.2 614.0 L269.0 615.2 L269.8 616.5 L270.5 617.7 L271.2 618.9 L272.0 620.1 L272.8 621.2 L273.5 622.3 L274.2 623.4 L275.0 624.5 L275.8 625.5 L276.5 626.6 L277.2 627.6 L278.0 628.6 L278.8 629.5 L279.5 630.5 L280.2 631.4 L281.0 632.3 L281.8 633.2 L282.5 634.1 L283.2 635.0 L284.0 635.8 L284.8 636.6 L285.5 637.4 L286.2 638.2 L287.0 639.0 L287.8 639.8 L288.5 640.6 L289.2 641.4 L290.0 642.2 L290.8 643.0 L291.5 643.7 L292.2 644.5 L293.0 645.3 L293.8 646.0 L294.5 646.8 L295.2 647.5 L296.0 648.2 L296.8 648.9 L297.5 649.6 L298.2 650.3 L299.0 651.0 L299.8 651.6 L300.5 652.3 L301.2 652.9 L302.0 653.6 L302.8 654.2 L303.5 654.9 L304.2 655.5 L305.0 656.1 L305.8 656.7 L306.5 657.3 L307.2 657.9 L308.0 658.5 L308.8 659.1 L309.5 659.6 L310.2 660.2 L311.0 660.7 L311.8 661.3 L312.5 661.8 L313.2 662.3 L314.0 662.8 L314.8 663.3 L315.5 663.8 L316.2 664.2 L317.0 664.7 L317.8 665.2 L318.5 665.7 L319.2 666.1 L320.0 666.6 L320.8 667.1 L321.5 667.6 L322.2 668.0 L323.0 668.5 L323.8 669.0 L324.5 669.4 L325.2 669.9 L326.0 670.3 L326.8 670.8 L327.5 671.2 L328.2 671.6 L329.0 672.0 L329.8 672.4 L330.5 672.8 L331.2 673.2 L332.0 673.6 L332.8 674.0 L333.5 674.3 L334.2 674.7 L335.0 675.1 L335.8 675.4 L336.5 675.8 L337.2 676.2 L338.0 676.5 L338.8 676.9 L339.5 677.2 L340.2 677.6 L341.0 677.9 L341.8 678.2 L342.5 678.6 L343.2 678.9 L344.0 679.2 L344.8 679.6 L345.5 679.9 L346.2 680.2 L347.0 680.5 L347.8 680.8 L348.5 681.1 L349.2 681.3 L350.0 681.6 L350.8 681.9 L351.5 682.1 L352.2 682.3 L353.0 682.6 L353.8 682.8 L354.5 683.0 L355.2 683.2 L356.0 683.4 L356.8 683.6 L357.5 683.8 L358.2 684.1 L359.0 684.3 L359.8 684.5 L360.5 684.7 L361.2 685.0 L362.0 685.2 L362.8 685.5 L363.5 685.7 L364.2 686.0 L365.0 686.2 L365.8 686.5 L366.5 686.7 L367.2 687.0 L368.0 687.2 L368.8 687.5 L369.5 687.7 L370.2 688.0 L371.0 688.2 L371.8 688.4 L372.5 688.7 L373.2 688.9 L374.0 689.1 L374.8 689.3 L375.5 689.5 L376.2 689.7 L377.0 689.9 L377.8 690.1 L378.5 690.3 L379.2 690.5 L380.0 690.7 L380.8 690.9 L381.5 691.0 L382.2 691.2 L383.0 691.4 L383.8 691.6 L384.5 691.7 L385.2 691.9 L386.0 692.1 L386.8 692.2 L387.5 692.4 L388.2 692.6 L389.0 692.7 L389.8 692.9 L390.5 693.0 L391.2 693.2 L392.0 693.3 L392.8 693.5 L393.5 693.6 L394.2 693.8 L395.0 693.9 L395.8 694.0 L396.5 694.2 L397.2 694.3 L398.0 694.4 L398.8 694.6 L399.5 694.7 L400.2 694.8 L401.0 694.9 L401.8 695.1 L402.5 695.2 L403.2 695.3 L404.0 695.4 L404.8 695.5 L405.5 695.7 L406.2 695.8 L407.0 695.9 L407.8 696.1 L408.5 696.2 L409.2 696.3 L410.0 696.4 L410.8 696.5 L411.5 696.6 L412.2 696.7 L413.0 696.7 L413.8 696.8 L414.5 696.8 L415.2 696.8 L416.0 696.9 L416.8 696.9 L417.5 696.9 L418.2 696.9 L419.0 696.9 L419.8 696.9 L420.5 697.0 L421.2 697.0 L422.0 697.0 L422.8 697.0 L423.5 697.0 L424.2 697.0 L425.0 697.0 L425.8 697.0 L426.5 697.0 L427.2 697.0 L428.0 697.0 L428.8 697.0 L429.5 697.0 L430.2 697.0 L431.0 697.0 L431.8 697.0 L432.5 697.0 L433.2 697.0 L434.0 697.0 L434.8 697.0 L435.5 697.0 L436.2 697.0 L437.0 697.0 L437.8 697.0 L438.5 697.0 L439.2 697.0 L440.0 697.0 L440.8 697.0 L441.5 697.0 L442.2 697.0 L443.0 697.0 L443.8 697.0 L444.5 697.0 L445.2 697.0 L446.0 697.0 L446.8 697.0 L447.5 697.0 L448.2 697.0 L449.0 697.0 L449.8 697.0 L450.5 697.0 L451.2 697.0 L452.0 697.0 L452.8 697.0 L453.5 697.0 L454.2 697.0 L455.0 697.0" stroke="#37AD6B" stroke-width="1.45"/>
<path d="M65.8 697.4 L66.0 686.1 L66.3 675.4 L66.5 665.4 L66.8 656.3 L67.0 648.2 L67.2 641.4 L67.5 635.7 L67.7 630.6 L68.0 626.0 L68.2 621.8 L68.4 618.0 L68.7 614.4 L68.9 611.0 L69.2 607.8 L69.4 605.0 L69.7 602.5 L69.9 600.3 L70.1 598.2 L70.4 596.0 L70.6 593.7 L70.9 591.1 L71.1 588.2 L71.3 584.7 L71.6 580.5 L71.8 573.5 L72.1 565.4 L72.3 558.8 L72.5 554.1 L72.8 549.9 L73.0 546.1 L73.3 542.6 L73.5 539.5 L73.7 536.5 L74.0 533.7 L74.2 530.9 L74.5 528.3 L74.7 525.9 L74.9 523.8 L75.2 521.9 L75.4 520.2 L75.7 518.8 L75.9 517.5 L76.1 516.3 L76.4 515.2 L76.6 514.1 L76.9 513.1 L77.1 512.2 L77.4 511.3 L77.6 510.4 L77.8 509.5 L78.1 508.6 L78.3 507.7 L78.6 506.8 L78.8 505.8 L79.0 504.9 L79.3 504.0 L79.5 503.1 L79.8 502.2 L80.0 501.3 L80.8 498.7 L81.5 496.2 L82.2 493.8 L83.0 491.5 L83.8 489.3 L84.5 487.3 L85.2 485.3 L86.0 483.6 L86.8 481.8 L87.5 480.1 L88.2 478.3 L89.0 476.4 L89.8 474.3 L90.5 472.2 L91.2 470.5 L92.0 469.0 L92.8 467.5 L93.5 466.0 L94.2 464.4 L95.0 462.7 L95.8 460.9 L96.5 459.0 L97.2 457.3 L98.0 455.6 L98.8 454.1 L99.5 452.7 L100.2 451.2 L101.0 449.9 L101.8 448.7 L102.5 447.6 L103.2 446.7 L104.0 445.9 L104.8 445.1 L105.5 444.5 L106.2 443.9 L107.0 443.4 L107.8 443.0 L108.5 442.7 L109.2 442.4 L110.0 442.2 L110.8 442.1 L111.5 441.9 L112.2 441.7 L113.0 441.5 L113.8 441.3 L114.5 441.1 L115.2 440.9 L116.0 440.7 L116.8 440.5 L117.5 440.3 L118.2 440.1 L119.0 439.9 L119.8 439.7 L120.5 439.5 L121.2 439.3 L122.0 439.1 L122.8 438.8 L123.5 438.6 L124.2 438.3 L125.0 438.1 L125.8 438.0 L126.5 438.0 L127.2 438.0 L128.0 438.1 L128.8 438.1 L129.5 438.2 L130.2 438.3 L131.0 438.3 L131.8 438.4 L132.5 438.5 L133.2 438.7 L134.0 438.9 L134.8 439.1 L135.5 439.4 L136.2 439.7 L137.0 439.9 L137.8 440.2 L138.5 440.5 L139.2 440.7 L140.0 440.9 L140.8 441.1 L141.5 441.2 L142.2 441.3 L143.0 441.4 L143.8 441.4 L144.5 441.5 L145.2 441.6 L146.0 441.7 L146.8 441.8 L147.5 441.9 L148.2 442.0 L149.0 442.2 L149.8 442.4 L150.5 442.6 L151.2 442.9 L152.0 443.2 L152.8 443.5 L153.5 444.1 L154.2 444.8 L155.0 445.8 L155.8 446.8 L156.5 447.8 L157.2 448.7 L158.0 449.7 L158.8 450.6 L159.5 451.6 L160.2 452.6 L161.0 453.4 L161.8 454.0 L162.5 454.5 L163.2 454.8 L164.0 455.1 L164.8 455.3 L165.5 455.5 L166.2 455.8 L167.0 456.0 L167.8 456.4 L168.5 456.8 L169.2 457.3 L170.0 457.9 L170.8 458.5 L171.5 459.2 L172.2 459.9 L173.0 460.7 L173.8 461.7 L174.5 462.8 L175.2 464.0 L176.0 465.1 L176.8 466.0 L177.5 466.6 L178.2 467.1 L179.0 467.5 L179.8 467.8 L180.5 468.2 L181.2 468.5 L182.0 469.0 L182.8 469.6 L183.5 470.3 L184.2 471.0 L185.0 471.8 L185.8 472.7 L186.5 473.5 L187.2 474.3 L188.0 475.2 L188.8 476.1 L189.5 477.0 L190.2 477.8 L191.0 478.7 L191.8 479.6 L192.5 480.5 L193.2 481.3 L194.0 482.2 L194.8 483.1 L195.5 483.9 L196.2 484.8 L197.0 485.8 L197.8 486.7 L198.5 487.7 L199.2 488.7 L200.0 489.8 L200.8 490.9 L201.5 492.1 L202.2 493.2 L203.0 494.4 L203.8 495.6 L204.5 496.8 L205.2 498.0 L206.0 499.2 L206.8 500.3 L207.5 501.5 L208.2 502.6 L209.0 503.8 L209.8 504.9 L210.5 506.0 L211.2 507.2 L212.0 508.3 L212.8 509.5 L213.5 510.7 L214.2 511.9 L215.0 513.1 L215.8 514.4 L216.5 515.7 L217.2 517.1 L218.0 518.5 L218.8 519.9 L219.5 521.3 L220.2 522.7 L221.0 524.1 L221.8 525.5 L222.5 526.8 L223.2 528.1 L224.0 529.4 L224.8 530.6 L225.5 531.7 L226.2 532.9 L227.0 534.0 L227.8 535.2 L228.5 536.3 L229.2 537.5 L230.0 538.7 L230.8 539.9 L231.5 541.2 L232.2 542.5 L233.0 543.8 L233.8 545.2 L234.5 546.5 L235.2 547.9 L236.0 549.2 L236.8 550.6 L237.5 552.0 L238.2 553.3 L239.0 554.7 L239.8 556.0 L240.5 557.4 L241.2 558.7 L242.0 560.0 L242.8 561.4 L243.5 562.7 L244.2 564.1 L245.0 565.4 L245.8 566.8 L246.5 568.3 L247.2 569.7 L248.0 571.2 L248.8 572.7 L249.5 574.2 L250.2 575.8 L251.0 577.3 L251.8 578.8 L252.5 580.4 L253.2 581.9 L254.0 583.4 L254.8 584.9 L255.5 586.3 L256.2 587.8 L257.0 589.3 L257.8 590.7 L258.5 592.2 L259.2 593.8 L260.0 595.4 L260.8 597.1 L261.5 598.9 L262.2 600.8 L263.0 602.8 L263.8 604.6 L264.5 606.4 L265.2 608.0 L266.0 609.5 L266.8 610.8 L267.5 612.2 L268.2 613.5 L269.0 614.7 L269.8 615.9 L270.5 617.1 L271.2 618.2 L272.0 619.3 L272.8 620.4 L273.5 621.5 L274.2 622.6 L275.0 623.7 L275.8 624.7 L276.5 625.8 L277.2 626.8 L278.0 627.8 L278.8 628.7 L279.5 629.7 L280.2 630.6 L281.0 631.5 L281.8 632.4 L282.5 633.3 L283.2 634.2 L284.0 635.0 L284.8 635.8 L285.5 636.6 L286.2 637.4 L287.0 638.2 L287.8 639.0 L288.5 639.8 L289.2 640.6 L290.0 641.4 L290.8 642.2 L291.5 642.9 L292.2 643.7 L293.0 644.5 L293.8 645.2 L294.5 646.0 L295.2 646.7 L296.0 647.4 L296.8 648.1 L297.5 648.8 L298.2 649.5 L299.0 650.2 L299.8 650.8 L300.5 651.5 L301.2 652.1 L302.0 652.8 L302.8 653.4 L303.5 654.1 L304.2 654.7 L305.0 655.3 L305.8 655.9 L306.5 656.5 L307.2 657.1 L308.0 657.7 L308.8 658.3 L309.5 658.8 L310.2 659.4 L311.0 659.9 L311.8 660.5 L312.5 661.0 L313.2 661.5 L314.0 662.0 L314.8 662.5 L315.5 663.0 L316.2 663.4 L317.0 663.9 L317.8 664.4 L318.5 664.9 L319.2 665.3 L320.0 665.8 L320.8 666.3 L321.5 666.8 L322.2 667.2 L323.0 667.7 L323.8 668.2 L324.5 668.6 L325.2 669.1 L326.0 669.5 L326.8 670.0 L327.5 670.4 L328.2 670.8 L329.0 671.2 L329.8 671.6 L330.5 672.0 L331.2 672.4 L332.0 672.8 L332.8 673.2 L333.5 673.5 L334.2 673.9 L335.0 674.3 L335.8 674.6 L336.5 675.0 L337.2 675.4 L338.0 675.7 L338.8 676.1 L339.5 676.4 L340.2 676.8 L341.0 677.1 L341.8 677.4 L342.5 677.8 L343.2 678.1 L344.0 678.4 L344.8 678.8 L345.5 679.1 L346.2 679.4 L347.0 679.7 L347.8 680.0 L348.5 680.3 L349.2 680.5 L350.0 680.8 L350.8 681.1 L351.5 681.3 L352.2 681.5 L353.0 681.8 L353.8 682.0 L354.5 682.2 L355.2 682.4 L356.0 682.6 L356.8 682.8 L357.5 683.0 L358.2 683.3 L359.0 683.5 L359.8 683.7 L360.5 683.9 L361.2 684.2 L362.0 684.4 L362.8 684.7 L363.5 684.9 L364.2 685.2 L365.0 685.4 L365.8 685.7 L366.5 685.9 L367.2 686.2 L368.0 686.4 L368.8 686.7 L369.5 686.9 L370.2 687.2 L371.0 687.4 L371.8 687.6 L372.5 687.9 L373.2 688.1 L374.0 688.3 L374.8 688.5 L375.5 688.7 L376.2 688.9 L377.0 689.1 L377.8 689.3 L378.5 689.5 L379.2 689.7 L380.0 689.9 L380.8 690.1 L381.5 690.2 L382.2 690.4 L383.0 690.6 L383.8 690.8 L384.5 690.9 L385.2 691.1 L386.0 691.3 L386.8 691.4 L387.5 691.6 L388.2 691.8 L389.0 691.9 L389.8 692.1 L390.5 692.2 L391.2 692.4 L392.0 692.5 L392.8 692.7 L393.5 692.8 L394.2 693.0 L395.0 693.1 L395.8 693.2 L396.5 693.4 L397.2 693.5 L398.0 693.6 L398.8 693.8 L399.5 693.9 L400.2 694.0 L401.0 694.1 L401.8 694.3 L402.5 694.4 L403.2 694.5 L404.0 694.6 L404.8 694.7 L405.5 694.9 L406.2 695.0 L407.0 695.1 L407.8 695.3 L408.5 695.4 L409.2 695.5 L410.0 695.6 L410.8 695.7 L411.5 695.8 L412.2 695.9 L413.0 695.9 L413.8 696.0 L414.5 696.0 L415.2 696.0 L416.0 696.1 L416.8 696.1 L417.5 696.1 L418.2 696.1 L419.0 696.1 L419.8 696.1 L420.5 696.2 L421.2 696.2 L422.0 696.2 L422.8 696.2 L423.5 696.2 L424.2 696.2 L425.0 696.2 L425.8 696.2 L426.5 696.2 L427.2 696.2 L428.0 696.2 L428.8 696.2 L429.5 696.2 L430.2 696.2 L431.0 696.2 L431.8 696.2 L432.5 696.2 L433.2 696.2 L434.0 696.2 L434.8 696.2 L435.5 696.2 L436.2 696.2 L437.0 696.2 L437.8 696.2 L438.5 696.2 L439.2 696.2 L440.0 696.2 L440.8 696.2 L441.5 696.2 L442.2 696.2 L443.0 696.2 L443.8 696.2 L444.5 696.2 L445.2 696.2 L446.0 696.2 L446.8 696.2 L447.5 696.2 L448.2 696.2 L449.0 696.2 L449.8 696.2 L450.5 696.2 L451.2 696.2 L452.0 696.2 L452.8 696.2 L453.5 696.2 L454.2 696.2 L455.0 696.2" stroke="#B177DE" stroke-width="1.25"/>
<path d="M65.8 697.4 L66.0 689.7 L66.3 682.2 L66.5 675.0 L66.8 668.2 L67.0 661.8 L67.2 655.8 L67.5 650.3 L67.7 645.2 L68.0 640.3 L68.2 635.7 L68.4 631.3 L68.7 627.1 L68.9 623.2 L69.2 619.6 L69.4 616.2 L69.7 613.1 L69.9 610.2 L70.1 607.6 L70.4 605.1 L70.6 602.7 L70.9 600.4 L71.1 598.1 L71.3 595.9 L71.6 593.7 L71.8 591.5 L72.1 589.5 L72.3 587.5 L72.5 585.5 L72.8 583.7 L73.0 581.9 L73.3 580.1 L73.5 578.4 L73.7 576.7 L74.0 575.0 L74.2 573.4 L74.5 571.8 L74.7 570.4 L74.9 568.9 L75.2 567.6 L75.4 566.4 L75.7 565.2 L75.9 564.0 L76.1 562.9 L76.4 561.9 L76.6 560.9 L76.9 559.9 L77.1 558.9 L77.4 558.0 L77.6 557.1 L77.8 556.2 L78.1 555.3 L78.3 554.4 L78.6 553.5 L78.8 552.7 L79.0 551.8 L79.3 550.9 L79.5 550.0 L79.8 549.2 L80.0 548.3 L80.8 545.8 L81.5 543.3 L82.2 540.9 L83.0 538.4 L83.8 536.0 L84.5 533.5 L85.2 531.1 L86.0 528.8 L86.8 526.4 L87.5 523.9 L88.2 521.3 L89.0 518.6 L89.8 515.8 L90.5 512.9 L91.2 509.8 L92.0 506.4 L92.8 502.4 L93.5 497.7 L94.2 494.4 L95.0 491.8 L95.8 489.6 L96.5 487.6 L97.2 485.7 L98.0 483.7 L98.8 481.6 L99.5 479.5 L100.2 477.4 L101.0 475.3 L101.8 473.1 L102.5 470.9 L103.2 468.2 L104.0 465.4 L104.8 462.7 L105.5 460.5 L106.2 459.1 L107.0 458.4 L107.8 457.9 L108.5 457.5 L109.2 457.0 L110.0 456.4 L110.8 455.9 L111.5 455.3 L112.2 454.6 L113.0 453.8 L113.8 452.4 L114.5 450.5 L115.2 448.8 L116.0 447.5 L116.8 446.3 L117.5 445.2 L118.2 444.1 L119.0 443.1 L119.8 442.1 L120.5 441.2 L121.2 440.3 L122.0 439.4 L122.8 438.6 L123.5 437.8 L124.2 437.2 L125.0 436.8 L125.8 436.5 L126.5 436.2 L127.2 435.9 L128.0 435.7 L128.8 435.5 L129.5 435.3 L130.2 435.2 L131.0 435.0 L131.8 434.9 L132.5 434.8 L133.2 434.7 L134.0 434.5 L134.8 434.4 L135.5 434.2 L136.2 433.9 L137.0 433.6 L137.8 433.4 L138.5 433.2 L139.2 433.0 L140.0 432.9 L140.8 432.7 L141.5 432.5 L142.2 432.4 L143.0 432.2 L143.8 431.9 L144.5 431.6 L145.2 431.2 L146.0 430.7 L146.8 430.3 L147.5 429.8 L148.2 429.5 L149.0 429.1 L149.8 428.7 L150.5 428.3 L151.2 428.1 L152.0 428.0 L152.8 428.3 L153.5 429.0 L154.2 429.9 L155.0 431.0 L155.8 431.9 L156.5 432.9 L157.2 433.9 L158.0 434.9 L158.8 436.0 L159.5 437.0 L160.2 437.8 L161.0 438.7 L161.8 439.5 L162.5 440.4 L163.2 441.1 L164.0 441.7 L164.8 442.0 L165.5 442.0 L166.2 441.9 L167.0 441.7 L167.8 441.5 L168.5 441.3 L169.2 441.2 L170.0 441.3 L170.8 441.8 L171.5 442.7 L172.2 443.7 L173.0 444.9 L173.8 446.0 L174.5 446.8 L175.2 447.7 L176.0 448.5 L176.8 449.3 L177.5 450.0 L178.2 450.7 L179.0 451.4 L179.8 451.9 L180.5 452.3 L181.2 452.7 L182.0 453.1 L182.8 453.6 L183.5 454.2 L184.2 455.1 L185.0 456.2 L185.8 457.5 L186.5 458.8 L187.2 460.1 L188.0 461.2 L188.8 462.1 L189.5 463.0 L190.2 463.9 L191.0 464.7 L191.8 465.5 L192.5 466.3 L193.2 467.1 L194.0 467.8 L194.8 468.5 L195.5 469.2 L196.2 470.0 L197.0 470.8 L197.8 471.8 L198.5 472.8 L199.2 473.9 L200.0 475.2 L200.8 476.5 L201.5 477.8 L202.2 479.3 L203.0 481.1 L203.8 483.1 L204.5 485.2 L205.2 487.1 L206.0 488.8 L206.8 490.2 L207.5 491.4 L208.2 492.6 L209.0 493.7 L209.8 494.7 L210.5 495.7 L211.2 496.6 L212.0 497.6 L212.8 498.6 L213.5 499.6 L214.2 500.6 L215.0 501.6 L215.8 502.6 L216.5 503.6 L217.2 504.5 L218.0 505.5 L218.8 506.5 L219.5 507.6 L220.2 508.8 L221.0 510.1 L221.8 511.5 L222.5 513.2 L223.2 515.3 L224.0 517.4 L224.8 519.4 L225.5 521.2 L226.2 522.9 L227.0 524.4 L227.8 525.8 L228.5 527.3 L229.2 528.7 L230.0 530.2 L230.8 531.9 L231.5 533.7 L232.2 535.6 L233.0 537.7 L233.8 539.8 L234.5 541.9 L235.2 543.9 L236.0 545.7 L236.8 547.4 L237.5 549.0 L238.2 550.6 L239.0 552.1 L239.8 553.6 L240.5 555.0 L241.2 556.5 L242.0 558.0 L242.8 559.5 L243.5 561.0 L244.2 562.4 L245.0 563.9 L245.8 565.4 L246.5 566.8 L247.2 568.3 L248.0 569.8 L248.8 571.3 L249.5 572.8 L250.2 574.3 L251.0 575.9 L251.8 577.4 L252.5 578.9 L253.2 580.4 L254.0 581.9 L254.8 583.4 L255.5 584.9 L256.2 586.3 L257.0 587.8 L257.8 589.3 L258.5 590.8 L259.2 592.3 L260.0 593.8 L260.8 595.3 L261.5 596.9 L262.2 598.5 L263.0 600.1 L263.8 601.7 L264.5 603.2 L265.2 604.7 L266.0 606.1 L266.8 607.6 L267.5 609.0 L268.2 610.4 L269.0 611.7 L269.8 613.1 L270.5 614.4 L271.2 615.6 L272.0 616.9 L272.8 618.1 L273.5 619.3 L274.2 620.4 L275.0 621.6 L275.8 622.6 L276.5 623.7 L277.2 624.8 L278.0 625.8 L278.8 626.8 L279.5 627.8 L280.2 628.8 L281.0 629.8 L281.8 630.7 L282.5 631.6 L283.2 632.5 L284.0 633.4 L284.8 634.3 L285.5 635.1 L286.2 636.0 L287.0 636.8 L287.8 637.7 L288.5 638.5 L289.2 639.3 L290.0 640.1 L290.8 640.9 L291.5 641.7 L292.2 642.5 L293.0 643.3 L293.8 644.1 L294.5 644.8 L295.2 645.6 L296.0 646.3 L296.8 647.0 L297.5 647.8 L298.2 648.5 L299.0 649.2 L299.8 649.9 L300.5 650.5 L301.2 651.2 L302.0 651.9 L302.8 652.6 L303.5 653.2 L304.2 653.9 L305.0 654.6 L305.8 655.2 L306.5 655.9 L307.2 656.5 L308.0 657.2 L308.8 657.8 L309.5 658.4 L310.2 659.0 L311.0 659.6 L311.8 660.2 L312.5 660.7 L313.2 661.3 L314.0 661.8 L314.8 662.3 L315.5 662.8 L316.2 663.3 L317.0 663.8 L317.8 664.3 L318.5 664.8 L319.2 665.3 L320.0 665.8 L320.8 666.4 L321.5 666.9 L322.2 667.4 L323.0 667.9 L323.8 668.4 L324.5 668.9 L325.2 669.4 L326.0 669.9 L326.8 670.3 L327.5 670.8 L328.2 671.2 L329.0 671.7 L329.8 672.1 L330.5 672.5 L331.2 672.9 L332.0 673.3 L332.8 673.7 L333.5 674.1 L334.2 674.5 L335.0 674.8 L335.8 675.2 L336.5 675.6 L337.2 676.0 L338.0 676.4 L338.8 676.8 L339.5 677.1 L340.2 677.5 L341.0 677.9 L341.8 678.3 L342.5 678.7 L343.2 679.0 L344.0 679.4 L344.8 679.8 L345.5 680.1 L346.2 680.5 L347.0 680.8 L347.8 681.1 L348.5 681.4 L349.2 681.7 L350.0 682.0 L350.8 682.3 L351.5 682.5 L352.2 682.7 L353.0 683.0 L353.8 683.2 L354.5 683.4 L355.2 683.6 L356.0 683.8 L356.8 684.0 L357.5 684.2 L358.2 684.5 L359.0 684.7 L359.8 684.9 L360.5 685.1 L361.2 685.4 L362.0 685.6 L362.8 685.9 L363.5 686.1 L364.2 686.4 L365.0 686.6 L365.8 686.9 L366.5 687.1 L367.2 687.4 L368.0 687.6 L368.8 687.9 L369.5 688.1 L370.2 688.4 L371.0 688.6 L371.8 688.8 L372.5 689.1 L373.2 689.3 L374.0 689.5 L374.8 689.7 L375.5 689.9 L376.2 690.1 L377.0 690.3 L377.8 690.5 L378.5 690.7 L379.2 690.9 L380.0 691.1 L380.8 691.3 L381.5 691.4 L382.2 691.6 L383.0 691.8 L383.8 692.0 L384.5 692.1 L385.2 692.3 L386.0 692.5 L386.8 692.6 L387.5 692.8 L388.2 693.0 L389.0 693.1 L389.8 693.3 L390.5 693.4 L391.2 693.6 L392.0 693.7 L392.8 693.9 L393.5 694.0 L394.2 694.2 L395.0 694.3 L395.8 694.4 L396.5 694.6 L397.2 694.7 L398.0 694.8 L398.8 695.0 L399.5 695.1 L400.2 695.2 L401.0 695.3 L401.8 695.5 L402.5 695.6 L403.2 695.7 L404.0 695.8 L404.8 695.9 L405.5 696.1 L406.2 696.2 L407.0 696.3 L407.8 696.5 L408.5 696.6 L409.2 696.7 L410.0 696.8 L410.8 696.9 L411.5 697.0 L412.2 697.1 L413.0 697.1 L413.8 697.2 L414.5 697.2 L415.2 697.2 L416.0 697.3 L416.8 697.3 L417.5 697.3 L418.2 697.3 L419.0 697.3 L419.8 697.3 L420.5 697.4 L421.2 697.4 L422.0 697.4 L422.8 697.4 L423.5 697.4 L424.2 697.4 L425.0 697.4 L425.8 697.4 L426.5 697.4 L427.2 697.4 L428.0 697.4 L428.8 697.4 L429.5 697.4 L430.2 697.4 L431.0 697.4 L431.8 697.4 L432.5 697.4 L433.2 697.4 L434.0 697.4 L434.8 697.4 L435.5 697.4 L436.2 697.4 L437.0 697.4 L437.8 697.4 L438.5 697.4 L439.2 697.4 L440.0 697.4 L440.8 697.4 L441.5 697.4 L442.2 697.4 L443.0 697.4 L443.8 697.4 L444.5 697.4 L445.2 697.4 L446.0 697.4 L446.8 697.4 L447.5 697.4 L448.2 697.4 L449.0 697.4 L449.8 697.4 L450.5 697.4 L451.2 697.4 L452.0 697.4 L452.8 697.4 L453.5 697.4 L454.2 697.4 L455.0 697.4" stroke="#CC9900" stroke-width="1.25"/>
<path d="M65.8 697.4 L66.0 690.7 L66.3 684.2 L66.5 678.0 L66.8 672.0 L67.0 666.4 L67.2 661.2 L67.5 656.2 L67.7 651.2 L68.0 646.4 L68.2 641.8 L68.4 637.6 L68.7 633.9 L68.9 630.8 L69.2 628.2 L69.4 625.9 L69.7 623.7 L69.9 621.8 L70.1 620.0 L70.4 618.4 L70.6 616.9 L70.9 615.7 L71.1 614.6 L71.3 613.7 L71.6 612.9 L71.8 612.2 L72.1 611.6 L72.3 610.8 L72.5 610.0 L72.8 609.2 L73.0 608.3 L73.3 607.4 L73.5 606.6 L73.7 605.7 L74.0 604.9 L74.2 604.1 L74.5 603.4 L74.7 602.7 L74.9 602.1 L75.2 601.5 L75.4 601.0 L75.7 600.5 L75.9 600.0 L76.1 599.4 L76.4 598.9 L76.6 598.3 L76.9 597.7 L77.1 597.0 L77.4 596.2 L77.6 595.3 L77.8 594.4 L78.1 593.5 L78.3 592.5 L78.6 591.5 L78.8 590.4 L79.0 589.4 L79.3 588.3 L79.5 587.3 L79.8 586.2 L80.0 585.2 L80.8 582.2 L81.5 579.5 L82.2 576.9 L83.0 574.5 L83.8 572.0 L84.5 569.7 L85.2 567.3 L86.0 564.9 L86.8 562.7 L87.5 560.6 L88.2 558.4 L89.0 556.2 L89.8 553.8 L90.5 551.2 L91.2 548.2 L92.0 544.7 L92.8 541.2 L93.5 537.8 L94.2 534.9 L95.0 532.4 L95.8 530.1 L96.5 527.9 L97.2 525.6 L98.0 523.1 L98.8 520.2 L99.5 516.4 L100.2 511.9 L101.0 507.5 L101.8 503.9 L102.5 500.9 L103.2 498.5 L104.0 496.4 L104.8 494.6 L105.5 492.9 L106.2 491.3 L107.0 489.9 L107.8 488.4 L108.5 487.1 L109.2 485.9 L110.0 484.7 L110.8 483.6 L111.5 482.3 L112.2 480.9 L113.0 479.3 L113.8 477.4 L114.5 475.4 L115.2 473.4 L116.0 471.3 L116.8 469.0 L117.5 466.7 L118.2 464.5 L119.0 462.5 L119.8 460.5 L120.5 458.7 L121.2 456.8 L122.0 454.9 L122.8 452.9 L123.5 451.0 L124.2 449.2 L125.0 447.8 L125.8 446.5 L126.5 445.4 L127.2 444.4 L128.0 443.5 L128.8 442.7 L129.5 442.0 L130.2 441.3 L131.0 440.6 L131.8 440.0 L132.5 439.4 L133.2 438.8 L134.0 438.2 L134.8 437.6 L135.5 436.9 L136.2 436.2 L137.0 435.5 L137.8 434.8 L138.5 434.1 L139.2 433.3 L140.0 432.5 L140.8 431.6 L141.5 430.5 L142.2 429.3 L143.0 428.1 L143.8 426.8 L144.5 425.7 L145.2 424.7 L146.0 423.7 L146.8 422.6 L147.5 421.7 L148.2 420.7 L149.0 419.9 L149.8 419.2 L150.5 418.7 L151.2 418.3 L152.0 417.9 L152.8 417.6 L153.5 417.4 L154.2 417.3 L155.0 417.5 L155.8 418.1 L156.5 418.8 L157.2 419.7 L158.0 420.4 L158.8 421.2 L159.5 422.1 L160.2 423.1 L161.0 424.0 L161.8 424.8 L162.5 425.5 L163.2 425.8 L164.0 425.8 L164.8 425.6 L165.5 425.3 L166.2 425.0 L167.0 424.7 L167.8 424.4 L168.5 424.2 L169.2 423.9 L170.0 423.7 L170.8 423.5 L171.5 423.6 L172.2 424.4 L173.0 425.7 L173.8 427.2 L174.5 428.6 L175.2 430.3 L176.0 432.2 L176.8 434.0 L177.5 435.3 L178.2 435.9 L179.0 436.3 L179.8 436.5 L180.5 436.7 L181.2 436.8 L182.0 437.0 L182.8 437.3 L183.5 437.7 L184.2 438.2 L185.0 438.7 L185.8 439.3 L186.5 440.0 L187.2 440.8 L188.0 441.6 L188.8 442.6 L189.5 443.6 L190.2 444.7 L191.0 445.7 L191.8 446.8 L192.5 447.9 L193.2 449.0 L194.0 450.2 L194.8 451.3 L195.5 452.3 L196.2 453.3 L197.0 454.1 L197.8 454.9 L198.5 455.6 L199.2 456.5 L200.0 457.4 L200.8 458.6 L201.5 459.9 L202.2 461.6 L203.0 463.3 L203.8 465.1 L204.5 467.0 L205.2 468.7 L206.0 470.4 L206.8 471.9 L207.5 473.3 L208.2 474.6 L209.0 475.9 L209.8 477.2 L210.5 478.5 L211.2 479.8 L212.0 481.1 L212.8 482.5 L213.5 484.0 L214.2 485.6 L215.0 487.2 L215.8 489.0 L216.5 490.8 L217.2 492.7 L218.0 494.6 L218.8 496.5 L219.5 498.4 L220.2 500.2 L221.0 501.9 L221.8 503.5 L222.5 505.1 L223.2 506.5 L224.0 508.0 L224.8 509.4 L225.5 510.8 L226.2 512.1 L227.0 513.6 L227.8 515.0 L228.5 516.5 L229.2 518.1 L230.0 519.8 L230.8 521.6 L231.5 523.5 L232.2 525.4 L233.0 527.2 L233.8 529.0 L234.5 530.8 L235.2 532.4 L236.0 533.9 L236.8 535.4 L237.5 536.9 L238.2 538.4 L239.0 539.9 L239.8 541.5 L240.5 543.1 L241.2 544.8 L242.0 546.6 L242.8 548.4 L243.5 550.2 L244.2 552.0 L245.0 553.7 L245.8 555.5 L246.5 557.2 L247.2 558.8 L248.0 560.5 L248.8 562.1 L249.5 563.7 L250.2 565.3 L251.0 566.9 L251.8 568.5 L252.5 570.1 L253.2 571.6 L254.0 573.2 L254.8 574.7 L255.5 576.2 L256.2 577.7 L257.0 579.2 L257.8 580.7 L258.5 582.1 L259.2 583.6 L260.0 585.1 L260.8 586.5 L261.5 588.0 L262.2 589.5 L263.0 590.9 L263.8 592.3 L264.5 593.8 L265.2 595.2 L266.0 596.7 L266.8 598.1 L267.5 599.6 L268.2 601.1 L269.0 602.7 L269.8 604.3 L270.5 606.0 L271.2 607.6 L272.0 609.1 L272.8 610.5 L273.5 611.9 L274.2 613.1 L275.0 614.4 L275.8 615.5 L276.5 616.7 L277.2 617.8 L278.0 618.9 L278.8 620.0 L279.5 621.1 L280.2 622.2 L281.0 623.3 L281.8 624.4 L282.5 625.5 L283.2 626.7 L284.0 627.8 L284.8 628.9 L285.5 630.0 L286.2 631.1 L287.0 632.1 L287.8 633.1 L288.5 634.0 L289.2 634.9 L290.0 635.7 L290.8 636.5 L291.5 637.3 L292.2 638.1 L293.0 638.8 L293.8 639.5 L294.5 640.3 L295.2 641.0 L296.0 641.8 L296.8 642.6 L297.5 643.4 L298.2 644.2 L299.0 645.0 L299.8 645.8 L300.5 646.6 L301.2 647.4 L302.0 648.2 L302.8 649.0 L303.5 649.7 L304.2 650.4 L305.0 651.2 L305.8 651.9 L306.5 652.6 L307.2 653.3 L308.0 653.9 L308.8 654.6 L309.5 655.3 L310.2 655.9 L311.0 656.6 L311.8 657.2 L312.5 657.8 L313.2 658.4 L314.0 659.0 L314.8 659.6 L315.5 660.2 L316.2 660.7 L317.0 661.3 L317.8 661.9 L318.5 662.5 L319.2 663.0 L320.0 663.6 L320.8 664.2 L321.5 664.8 L322.2 665.4 L323.0 666.0 L323.8 666.6 L324.5 667.2 L325.2 667.7 L326.0 668.3 L326.8 668.8 L327.5 669.3 L328.2 669.8 L329.0 670.3 L329.8 670.8 L330.5 671.3 L331.2 671.7 L332.0 672.2 L332.8 672.6 L333.5 673.1 L334.2 673.5 L335.0 673.9 L335.8 674.4 L336.5 674.8 L337.2 675.2 L338.0 675.7 L338.8 676.1 L339.5 676.6 L340.2 677.0 L341.0 677.4 L341.8 677.9 L342.5 678.3 L343.2 678.7 L344.0 679.1 L344.8 679.6 L345.5 680.0 L346.2 680.3 L347.0 680.7 L347.8 681.1 L348.5 681.4 L349.2 681.7 L350.0 682.0 L350.8 682.3 L351.5 682.5 L352.2 682.8 L353.0 683.0 L353.8 683.2 L354.5 683.4 L355.2 683.6 L356.0 683.8 L356.8 684.0 L357.5 684.2 L358.2 684.5 L359.0 684.7 L359.8 684.9 L360.5 685.1 L361.2 685.4 L362.0 685.6 L362.8 685.9 L363.5 686.1 L364.2 686.4 L365.0 686.6 L365.8 686.9 L366.5 687.1 L367.2 687.4 L368.0 687.6 L368.8 687.9 L369.5 688.1 L370.2 688.4 L371.0 688.6 L371.8 688.8 L372.5 689.1 L373.2 689.3 L374.0 689.5 L374.8 689.7 L375.5 689.9 L376.2 690.1 L377.0 690.3 L377.8 690.5 L378.5 690.7 L379.2 690.9 L380.0 691.1 L380.8 691.3 L381.5 691.4 L382.2 691.6 L383.0 691.8 L383.8 692.0 L384.5 692.1 L385.2 692.3 L386.0 692.5 L386.8 692.6 L387.5 692.8 L388.2 693.0 L389.0 693.1 L389.8 693.3 L390.5 693.4 L391.2 693.6 L392.0 693.7 L392.8 693.9 L393.5 694.0 L394.2 694.2 L395.0 694.3 L395.8 694.4 L396.5 694.6 L397.2 694.7 L398.0 694.8 L398.8 695.0 L399.5 695.1 L400.2 695.2 L401.0 695.3 L401.8 695.5 L402.5 695.6 L403.2 695.7 L404.0 695.8 L404.8 695.9 L405.5 696.1 L406.2 696.2 L407.0 696.3 L407.8 696.5 L408.5 696.6 L409.2 696.7 L410.0 696.8 L410.8 696.9 L411.5 697.0 L412.2 697.1 L413.0 697.1 L413.8 697.2 L414.5 697.2 L415.2 697.2 L416.0 697.3 L416.8 697.3 L417.5 697.3 L418.2 697.3 L419.0 697.3 L419.8 697.3 L420.5 697.4 L421.2 697.4 L422.0 697.4 L422.8 697.4 L423.5 697.4 L424.2 697.4 L425.0 697.4 L425.8 697.4 L426.5 697.4 L427.2 697.4 L428.0 697.4 L428.8 697.4 L429.5 697.4 L430.2 697.4 L431.0 697.4 L431.8 697.4 L432.5 697.4 L433.2 697.4 L434.0 697.4 L434.8 697.4 L435.5 697.4 L436.2 697.4 L437.0 697.4 L437.8 697.4 L438.5 697.4 L439.2 697.4 L440.0 697.4 L440.8 697.4 L441.5 697.4 L442.2 697.4 L443.0 697.4 L443.8 697.4 L444.5 697.4 L445.2 697.4 L446.0 697.4 L446.8 697.4 L447.5 697.4 L448.2 697.4 L449.0 697.4 L449.8 697.4 L450.5 697.4 L451.2 697.4 L452.0 697.4 L452.8 697.4 L453.5 697.4 L454.2 697.4 L455.0 697.4" stroke="#00CBCC" stroke-width="1.25"/>
<path d="M65.8 697.4 L66.0 691.0 L66.3 684.8 L66.5 679.0 L66.8 673.6 L67.0 668.6 L67.2 664.2 L67.5 660.1 L67.7 656.2 L68.0 652.5 L68.2 649.0 L68.4 645.9 L68.7 643.1 L68.9 640.6 L69.2 638.6 L69.4 636.7 L69.7 635.0 L69.9 633.4 L70.1 632.0 L70.4 630.6 L70.6 629.3 L70.9 628.0 L71.1 626.8 L71.3 625.5 L71.6 624.2 L71.8 622.9 L72.1 621.5 L72.3 620.3 L72.5 619.1 L72.8 617.9 L73.0 616.9 L73.3 616.0 L73.5 615.1 L73.7 614.3 L74.0 613.5 L74.2 612.7 L74.5 611.9 L74.7 611.2 L74.9 610.5 L75.2 609.8 L75.4 609.1 L75.7 608.4 L75.9 607.8 L76.1 607.1 L76.4 606.5 L76.6 605.9 L76.9 605.3 L77.1 604.7 L77.4 604.2 L77.6 603.7 L77.8 603.2 L78.1 602.8 L78.3 602.3 L78.6 601.9 L78.8 601.4 L79.0 601.0 L79.3 600.5 L79.5 600.1 L79.8 599.6 L80.0 599.1 L80.8 597.4 L81.5 595.4 L82.2 593.0 L83.0 590.5 L83.8 587.8 L84.5 585.1 L85.2 582.5 L86.0 580.0 L86.8 577.5 L87.5 575.0 L88.2 572.5 L89.0 570.0 L89.8 567.4 L90.5 564.7 L91.2 562.0 L92.0 559.2 L92.8 556.4 L93.5 553.7 L94.2 551.0 L95.0 548.5 L95.8 546.1 L96.5 543.7 L97.2 541.3 L98.0 538.7 L98.8 536.0 L99.5 533.1 L100.2 530.2 L101.0 527.0 L101.8 523.4 L102.5 519.1 L103.2 512.7 L104.0 506.6 L104.8 503.4 L105.5 501.4 L106.2 499.7 L107.0 498.1 L107.8 496.7 L108.5 495.3 L109.2 494.0 L110.0 492.7 L110.8 491.6 L111.5 490.4 L112.2 489.4 L113.0 488.5 L113.8 487.7 L114.5 486.8 L115.2 485.7 L116.0 484.1 L116.8 481.8 L117.5 479.3 L118.2 476.8 L119.0 474.5 L119.8 472.2 L120.5 469.9 L121.2 467.7 L122.0 465.6 L122.8 463.7 L123.5 461.8 L124.2 460.0 L125.0 458.3 L125.8 456.7 L126.5 455.2 L127.2 453.8 L128.0 452.5 L128.8 451.4 L129.5 450.3 L130.2 449.3 L131.0 448.2 L131.8 447.3 L132.5 446.3 L133.2 445.0 L134.0 443.5 L134.8 442.0 L135.5 440.6 L136.2 439.5 L137.0 438.5 L137.8 437.6 L138.5 436.7 L139.2 435.7 L140.0 434.8 L140.8 433.7 L141.5 432.5 L142.2 431.3 L143.0 430.0 L143.8 428.7 L144.5 427.4 L145.2 426.1 L146.0 424.9 L146.8 423.7 L147.5 422.6 L148.2 421.7 L149.0 420.7 L149.8 419.7 L150.5 418.7 L151.2 417.8 L152.0 417.1 L152.8 416.7 L153.5 416.5 L154.2 416.7 L155.0 417.1 L155.8 417.6 L156.5 418.3 L157.2 419.0 L158.0 419.6 L158.8 420.3 L159.5 421.0 L160.2 421.9 L161.0 422.7 L161.8 423.4 L162.5 423.9 L163.2 424.2 L164.0 424.1 L164.8 423.4 L165.5 422.6 L166.2 421.7 L167.0 421.0 L167.8 420.5 L168.5 420.1 L169.2 419.7 L170.0 419.5 L170.8 419.6 L171.5 420.4 L172.2 421.7 L173.0 423.1 L173.8 424.4 L174.5 425.4 L175.2 426.4 L176.0 427.3 L176.8 428.2 L177.5 428.7 L178.2 428.8 L179.0 428.7 L179.8 428.5 L180.5 428.4 L181.2 428.2 L182.0 428.0 L182.8 428.0 L183.5 428.2 L184.2 428.5 L185.0 429.1 L185.8 429.7 L186.5 430.4 L187.2 431.3 L188.0 432.4 L188.8 433.7 L189.5 435.1 L190.2 436.5 L191.0 437.7 L191.8 438.7 L192.5 439.7 L193.2 440.6 L194.0 441.5 L194.8 442.4 L195.5 443.2 L196.2 444.0 L197.0 444.7 L197.8 445.3 L198.5 445.9 L199.2 446.7 L200.0 447.5 L200.8 448.5 L201.5 449.8 L202.2 451.4 L203.0 453.2 L203.8 455.0 L204.5 456.9 L205.2 458.8 L206.0 460.6 L206.8 462.2 L207.5 463.8 L208.2 465.3 L209.0 466.8 L209.8 468.3 L210.5 469.9 L211.2 471.4 L212.0 473.0 L212.8 474.6 L213.5 476.3 L214.2 478.1 L215.0 480.0 L215.8 482.0 L216.5 484.0 L217.2 486.1 L218.0 488.2 L218.8 490.3 L219.5 492.3 L220.2 494.1 L221.0 495.9 L221.8 497.5 L222.5 499.0 L223.2 500.3 L224.0 501.6 L224.8 502.8 L225.5 504.0 L226.2 505.3 L227.0 506.6 L227.8 508.1 L228.5 509.7 L229.2 511.5 L230.0 513.3 L230.8 515.2 L231.5 517.1 L232.2 518.9 L233.0 520.7 L233.8 522.4 L234.5 524.2 L235.2 525.9 L236.0 527.6 L236.8 529.2 L237.5 530.7 L238.2 532.1 L239.0 533.5 L239.8 535.0 L240.5 536.5 L241.2 538.0 L242.0 539.6 L242.8 541.2 L243.5 542.9 L244.2 544.6 L245.0 546.3 L245.8 548.1 L246.5 549.9 L247.2 551.9 L248.0 553.9 L248.8 556.0 L249.5 557.9 L250.2 559.8 L251.0 561.4 L251.8 562.9 L252.5 564.2 L253.2 565.5 L254.0 566.7 L254.8 568.0 L255.5 569.4 L256.2 570.8 L257.0 572.3 L257.8 573.8 L258.5 575.3 L259.2 576.9 L260.0 578.5 L260.8 580.1 L261.5 581.8 L262.2 583.6 L263.0 585.3 L263.8 587.1 L264.5 588.8 L265.2 590.6 L266.0 592.4 L266.8 594.4 L267.5 596.4 L268.2 598.4 L269.0 600.3 L269.8 602.2 L270.5 604.0 L271.2 605.7 L272.0 607.2 L272.8 608.4 L273.5 609.5 L274.2 610.3 L275.0 611.1 L275.8 611.8 L276.5 612.4 L277.2 613.0 L278.0 613.6 L278.8 614.3 L279.5 615.0 L280.2 615.8 L281.0 616.8 L281.8 618.0 L282.5 619.5 L283.2 621.1 L284.0 622.9 L284.8 624.7 L285.5 626.5 L286.2 628.2 L287.0 629.7 L287.8 631.0 L288.5 632.0 L289.2 632.8 L290.0 633.4 L290.8 634.0 L291.5 634.5 L292.2 634.9 L293.0 635.4 L293.8 635.8 L294.5 636.3 L295.2 636.9 L296.0 637.5 L296.8 638.2 L297.5 639.1 L298.2 640.0 L299.0 641.0 L299.8 642.0 L300.5 643.0 L301.2 644.1 L302.0 645.1 L302.8 646.0 L303.5 647.0 L304.2 647.8 L305.0 648.6 L305.8 649.4 L306.5 650.2 L307.2 651.0 L308.0 651.7 L308.8 652.5 L309.5 653.2 L310.2 653.9 L311.0 654.6 L311.8 655.2 L312.5 655.8 L313.2 656.4 L314.0 657.0 L314.8 657.5 L315.5 658.1 L316.2 658.6 L317.0 659.1 L317.8 659.7 L318.5 660.3 L319.2 660.8 L320.0 661.5 L320.8 662.1 L321.5 662.8 L322.2 663.4 L323.0 664.1 L323.8 664.8 L324.5 665.4 L325.2 666.1 L326.0 666.7 L326.8 667.3 L327.5 667.9 L328.2 668.5 L329.0 669.0 L329.8 669.6 L330.5 670.1 L331.2 670.7 L332.0 671.2 L332.8 671.8 L333.5 672.3 L334.2 672.8 L335.0 673.3 L335.8 673.7 L336.5 674.2 L337.2 674.7 L338.0 675.1 L338.8 675.5 L339.5 676.0 L340.2 676.4 L341.0 676.8 L341.8 677.2 L342.5 677.6 L343.2 678.0 L344.0 678.4 L344.8 678.8 L345.5 679.2 L346.2 679.6 L347.0 679.9 L347.8 680.3 L348.5 680.6 L349.2 681.0 L350.0 681.3 L350.8 681.6 L351.5 681.9 L352.2 682.2 L353.0 682.5 L353.8 682.8 L354.5 683.1 L355.2 683.3 L356.0 683.6 L356.8 683.9 L357.5 684.1 L358.2 684.4 L359.0 684.7 L359.8 684.9 L360.5 685.2 L361.2 685.4 L362.0 685.7 L362.8 686.0 L363.5 686.2 L364.2 686.5 L365.0 686.7 L365.8 687.0 L366.5 687.2 L367.2 687.5 L368.0 687.7 L368.8 687.9 L369.5 688.2 L370.2 688.4 L371.0 688.6 L371.8 688.9 L372.5 689.1 L373.2 689.3 L374.0 689.5 L374.8 689.7 L375.5 689.9 L376.2 690.1 L377.0 690.3 L377.8 690.5 L378.5 690.7 L379.2 690.9 L380.0 691.1 L380.8 691.3 L381.5 691.4 L382.2 691.6 L383.0 691.8 L383.8 692.0 L384.5 692.1 L385.2 692.3 L386.0 692.5 L386.8 692.6 L387.5 692.8 L388.2 693.0 L389.0 693.1 L389.8 693.3 L390.5 693.4 L391.2 693.6 L392.0 693.7 L392.8 693.9 L393.5 694.0 L394.2 694.2 L395.0 694.3 L395.8 694.4 L396.5 694.6 L397.2 694.7 L398.0 694.8 L398.8 695.0 L399.5 695.1 L400.2 695.2 L401.0 695.3 L401.8 695.5 L402.5 695.6 L403.2 695.7 L404.0 695.8 L404.8 695.9 L405.5 696.1 L406.2 696.2 L407.0 696.3 L407.8 696.5 L408.5 696.6 L409.2 696.7 L410.0 696.8 L410.8 696.9 L411.5 697.0 L412.2 697.1 L413.0 697.1 L413.8 697.2 L414.5 697.2 L415.2 697.2 L416.0 697.3 L416.8 697.3 L417.5 697.3 L418.2 697.3 L419.0 697.3 L419.8 697.3 L420.5 697.4 L421.2 697.4 L422.0 697.4 L422.8 697.4 L423.5 697.4 L424.2 697.4 L425.0 697.4 L425.8 697.4 L426.5 697.4 L427.2 697.4 L428.0 697.4 L428.8 697.4 L429.5 697.4 L430.2 697.4 L431.0 697.4 L431.8 697.4 L432.5 697.4 L433.2 697.4 L434.0 697.4 L434.8 697.4 L435.5 697.4 L436.2 697.4 L437.0 697.4 L437.8 697.4 L438.5 697.4 L439.2 697.4 L440.0 697.4 L440.8 697.4 L441.5 697.4 L442.2 697.4 L443.0 697.4 L443.8 697.4 L444.5 697.4 L445.2 697.4 L446.0 697.4 L446.8 697.4 L447.5 697.4 L448.2 697.4 L449.0 697.4 L449.8 697.4 L450.5 697.4 L451.2 697.4 L452.0 697.4 L452.8 697.4 L453.5 697.4 L454.2 697.4 L455.0 697.4" stroke="#7D4E4E" stroke-width="1.25"/>
<path d="M65.2 697.4 L65.4 692.9 L65.7 688.6 L65.9 684.4 L66.2 680.6 L66.4 677.0 L66.6 673.6 L66.9 670.5 L67.1 667.5 L67.4 664.6 L67.6 661.8 L67.8 659.1 L68.1 656.4 L68.3 653.6 L68.6 651.0 L68.8 648.4 L69.1 646.0 L69.3 643.9 L69.5 642.0 L69.8 640.2 L70.0 638.5 L70.3 636.8 L70.5 635.3 L70.7 633.8 L71.0 632.5 L71.2 631.3 L71.5 630.2 L71.7 629.2 L71.9 628.3 L72.2 627.5 L72.4 626.8 L72.7 626.1 L72.9 625.4 L73.1 624.8 L73.4 624.3 L73.6 623.7 L73.9 623.3 L74.1 622.8 L74.3 622.4 L74.6 622.0 L74.8 621.7 L75.1 621.4 L75.3 621.1 L75.5 620.8 L75.8 620.5 L76.0 620.2 L76.3 620.0 L76.5 619.7 L76.8 619.5 L77.0 619.2 L77.2 618.9 L77.5 618.6 L77.7 618.3 L78.0 618.0 L78.2 617.7 L78.4 617.3 L78.7 616.9 L78.9 616.4 L79.2 615.9 L79.4 615.3 L80.2 613.4 L80.9 611.3 L81.7 609.3 L82.4 607.5 L83.2 605.6 L83.9 603.8 L84.7 602.0 L85.4 600.4 L86.2 599.0 L86.9 597.7 L87.7 596.2 L88.4 594.6 L89.2 592.9 L89.9 591.1 L90.7 589.3 L91.4 587.3 L92.2 585.2 L92.9 583.1 L93.7 580.7 L94.4 578.3 L95.2 575.7 L95.9 572.9 L96.7 570.0 L97.4 566.4 L98.2 562.7 L98.9 559.2 L99.7 556.3 L100.4 553.6 L101.2 551.0 L101.9 548.6 L102.7 546.1 L103.4 543.5 L104.2 540.7 L104.9 537.8 L105.7 535.1 L106.4 532.7 L107.2 530.8 L107.9 529.1 L108.7 527.7 L109.4 526.3 L110.2 524.8 L110.9 523.1 L111.7 521.2 L112.4 518.6 L113.2 515.2 L113.9 511.3 L114.7 507.5 L115.4 504.2 L116.2 501.1 L116.9 498.6 L117.7 496.7 L118.4 495.0 L119.2 493.4 L119.9 491.7 L120.7 490.0 L121.4 488.1 L122.2 486.3 L122.9 484.5 L123.7 482.7 L124.4 481.0 L125.2 479.3 L125.9 477.7 L126.7 476.1 L127.4 474.5 L128.2 472.9 L128.9 471.3 L129.7 469.7 L130.4 468.1 L131.2 466.4 L131.9 464.6 L132.7 462.9 L133.4 461.2 L134.2 459.5 L134.9 457.8 L135.7 456.1 L136.4 454.5 L137.2 452.8 L137.9 451.2 L138.7 449.6 L139.4 447.9 L140.2 446.2 L140.9 444.3 L141.7 442.4 L142.4 440.4 L143.2 438.4 L143.9 436.4 L144.7 434.5 L145.4 432.7 L146.2 431.1 L146.9 429.8 L147.7 428.7 L148.4 427.6 L149.2 426.5 L149.9 425.6 L150.7 424.9 L151.4 424.4 L152.2 424.2 L152.9 424.3 L153.7 424.4 L154.4 424.7 L155.2 424.9 L155.9 425.2 L156.7 425.5 L157.4 425.8 L158.2 426.1 L158.9 426.4 L159.7 426.8 L160.4 427.1 L161.2 427.4 L161.9 427.7 L162.7 427.9 L163.4 428.0 L164.2 427.7 L164.9 426.7 L165.7 425.4 L166.4 424.0 L167.2 422.0 L167.9 419.8 L168.7 417.9 L169.4 416.7 L170.2 416.6 L170.9 417.3 L171.7 418.5 L172.4 419.9 L173.2 421.2 L173.9 422.1 L174.7 423.2 L175.4 424.3 L176.2 425.1 L176.9 425.7 L177.7 425.8 L178.4 425.6 L179.2 425.3 L179.9 424.9 L180.7 424.6 L181.4 424.3 L182.2 424.2 L182.9 424.4 L183.7 424.9 L184.4 425.5 L185.2 426.3 L185.9 427.0 L186.7 427.8 L187.4 428.9 L188.2 430.0 L188.9 431.2 L189.7 432.3 L190.4 433.3 L191.2 434.0 L191.9 434.7 L192.7 435.3 L193.4 435.9 L194.2 436.5 L194.9 437.1 L195.7 437.7 L196.4 438.2 L197.2 438.8 L197.9 439.4 L198.7 440.0 L199.4 440.8 L200.2 441.6 L200.9 442.8 L201.7 444.1 L202.4 445.6 L203.2 447.1 L203.9 448.6 L204.7 450.1 L205.4 451.4 L206.2 452.8 L206.9 454.2 L207.7 455.5 L208.4 456.9 L209.2 458.3 L209.9 459.7 L210.7 461.1 L211.4 462.5 L212.2 464.0 L212.9 465.6 L213.7 467.2 L214.4 469.0 L215.2 470.8 L215.9 472.8 L216.7 474.8 L217.4 476.8 L218.2 478.7 L218.9 480.6 L219.7 482.2 L220.4 483.7 L221.2 485.0 L221.9 486.1 L222.7 487.0 L223.4 487.8 L224.2 488.6 L224.9 489.4 L225.7 490.3 L226.4 491.2 L227.2 492.4 L227.9 493.7 L228.7 495.1 L229.4 496.6 L230.2 498.4 L230.9 500.5 L231.7 502.8 L232.4 506.4 L233.2 511.2 L233.9 515.1 L234.7 517.3 L235.4 519.2 L236.2 520.7 L236.9 522.1 L237.7 523.4 L238.4 524.6 L239.2 525.6 L239.9 526.5 L240.7 527.3 L241.4 528.2 L242.2 529.1 L242.9 530.3 L243.7 531.7 L244.4 533.5 L245.2 535.6 L245.9 537.9 L246.7 540.2 L247.4 542.4 L248.2 544.7 L248.9 547.2 L249.7 549.7 L250.4 552.0 L251.2 554.1 L251.9 555.8 L252.7 557.3 L253.4 558.5 L254.2 559.7 L254.9 560.8 L255.7 561.9 L256.4 563.0 L257.1 564.1 L257.9 565.0 L258.6 566.0 L259.4 566.9 L260.1 568.0 L260.9 569.2 L261.6 570.6 L262.4 572.2 L263.1 573.9 L263.9 575.7 L264.6 577.6 L265.4 579.5 L266.1 581.5 L266.9 583.9 L267.6 586.3 L268.4 588.5 L269.1 590.3 L269.9 591.6 L270.6 592.6 L271.4 593.5 L272.1 594.3 L272.9 595.0 L273.6 595.7 L274.4 596.5 L275.1 597.4 L275.9 598.3 L276.6 599.1 L277.4 600.1 L278.1 601.1 L278.9 602.4 L279.6 604.0 L280.4 605.7 L281.1 607.6 L281.9 609.6 L282.6 611.6 L283.4 613.5 L284.1 615.3 L284.9 616.8 L285.6 618.1 L286.4 619.2 L287.1 620.1 L287.9 620.9 L288.6 621.6 L289.4 622.2 L290.1 622.9 L290.9 623.5 L291.6 624.1 L292.4 624.8 L293.1 625.5 L293.9 626.2 L294.6 627.1 L295.4 628.0 L296.1 629.0 L296.9 630.1 L297.6 631.2 L298.4 632.3 L299.1 633.5 L299.9 634.7 L300.6 635.9 L301.4 637.0 L302.1 638.1 L302.9 639.2 L303.6 640.2 L304.4 641.2 L305.1 642.3 L305.9 643.3 L306.6 644.3 L307.4 645.2 L308.1 646.2 L308.9 647.1 L309.6 647.9 L310.4 648.7 L311.1 649.4 L311.9 650.1 L312.6 650.7 L313.4 651.2 L314.1 651.7 L314.9 652.2 L315.6 652.7 L316.4 653.2 L317.1 653.8 L317.9 654.4 L318.6 655.0 L319.4 655.8 L320.1 656.7 L320.9 657.6 L321.6 658.6 L322.4 659.6 L323.1 660.6 L323.9 661.6 L324.6 662.6 L325.4 663.5 L326.1 664.3 L326.9 665.1 L327.6 665.8 L328.4 666.5 L329.1 667.1 L329.9 667.8 L330.6 668.4 L331.4 669.0 L332.1 669.6 L332.9 670.2 L333.6 670.7 L334.4 671.3 L335.1 671.8 L335.9 672.3 L336.6 672.8 L337.4 673.3 L338.1 673.8 L338.9 674.2 L339.6 674.7 L340.4 675.1 L341.1 675.5 L341.9 676.0 L342.6 676.4 L343.4 676.8 L344.1 677.2 L344.9 677.6 L345.6 678.0 L346.4 678.4 L347.1 678.8 L347.9 679.2 L348.6 679.6 L349.4 680.0 L350.1 680.4 L350.9 680.8 L351.6 681.2 L352.4 681.6 L353.1 682.0 L353.9 682.4 L354.6 682.8 L355.4 683.2 L356.1 683.5 L356.9 683.9 L357.6 684.3 L358.4 684.6 L359.1 685.0 L359.9 685.3 L360.6 685.6 L361.4 686.0 L362.1 686.3 L362.9 686.6 L363.6 686.9 L364.4 687.2 L365.1 687.5 L365.9 687.8 L366.6 688.1 L367.4 688.4 L368.1 688.7 L368.9 689.0 L369.6 689.3 L370.4 689.6 L371.1 689.8 L371.9 690.1 L372.6 690.3 L373.4 690.6 L374.1 690.9 L374.9 691.1 L375.6 691.4 L376.4 691.6 L377.1 691.8 L377.9 692.1 L378.6 692.3 L379.4 692.6 L380.1 692.8 L380.9 693.0 L381.6 693.3 L382.4 693.5 L383.1 693.7 L383.9 693.9 L384.6 694.1 L385.4 694.3 L386.1 694.5 L386.9 694.6 L387.6 694.8 L388.4 694.9 L389.1 695.1 L389.9 695.2 L390.6 695.3 L391.4 695.4 L392.1 695.6 L392.9 695.7 L393.6 695.8 L394.4 695.9 L395.1 696.0 L395.9 696.1 L396.6 696.2 L397.4 696.3 L398.1 696.3 L398.9 696.4 L399.6 696.5 L400.4 696.6 L401.1 696.7 L401.9 696.7 L402.6 696.8 L403.4 696.9 L404.1 696.9 L404.9 697.0 L405.6 697.1 L406.4 697.1 L407.1 697.2 L407.9 697.3 L408.6 697.3 L409.4 697.4 L410.1 697.4 L410.9 697.4 L411.6 697.4 L412.4 697.4 L413.1 697.4 L413.9 697.4 L414.6 697.4 L415.4 697.4 L416.1 697.4 L416.9 697.4 L417.6 697.4 L418.4 697.4 L419.1 697.4 L419.9 697.4 L420.6 697.4 L421.4 697.4 L422.1 697.4 L422.9 697.4 L423.6 697.4 L424.4 697.4 L425.1 697.4 L425.9 697.4 L426.6 697.4 L427.4 697.4 L428.1 697.4 L428.9 697.4 L429.6 697.4 L430.4 697.4 L431.1 697.4 L431.9 697.4 L432.6 697.4 L433.4 697.4 L434.1 697.4 L434.9 697.4 L435.6 697.4 L436.4 697.4 L437.1 697.4 L437.9 697.4 L438.6 697.4 L439.4 697.4 L440.1 697.4 L440.9 697.4 L441.6 697.4 L442.4 697.4 L443.1 697.4 L443.9 697.4 L444.6 697.4 L445.4 697.4 L446.1 697.4 L446.9 697.4 L447.6 697.4 L448.4 697.4 L449.1 697.4 L449.9 697.4 L450.6 697.4 L451.4 697.4 L452.1 697.4 L452.9 697.4 L453.6 697.4 L454.4 697.4" stroke="#8E8E00" stroke-width="1.25"/>
<path d="M65.5 697.4 L65.7 692.9 L66.0 688.6 L66.2 684.4 L66.5 680.6 L66.7 677.0 L66.9 673.6 L67.2 670.5 L67.4 667.5 L67.7 664.6 L67.9 661.8 L68.1 659.1 L68.4 656.4 L68.6 653.6 L68.9 651.0 L69.1 648.4 L69.4 646.0 L69.6 643.9 L69.8 642.0 L70.1 640.2 L70.3 638.5 L70.6 636.8 L70.8 635.3 L71.0 633.8 L71.3 632.5 L71.5 631.3 L71.8 630.2 L72.0 629.2 L72.2 628.3 L72.5 627.5 L72.7 626.8 L73.0 626.1 L73.2 625.4 L73.4 624.8 L73.7 624.3 L73.9 623.7 L74.2 623.3 L74.4 622.8 L74.6 622.4 L74.9 622.0 L75.1 621.7 L75.4 621.4 L75.6 621.1 L75.8 620.8 L76.1 620.5 L76.3 620.2 L76.6 620.0 L76.8 619.7 L77.1 619.5 L77.3 619.2 L77.5 618.9 L77.8 618.6 L78.0 618.3 L78.3 618.0 L78.5 617.7 L78.7 617.3 L79.0 616.9 L79.2 616.4 L79.5 615.9 L79.7 615.3 L80.5 613.4 L81.2 611.3 L82.0 609.3 L82.7 607.5 L83.5 605.6 L84.2 603.8 L85.0 602.0 L85.7 600.4 L86.5 599.0 L87.2 597.7 L88.0 596.2 L88.7 594.6 L89.5 592.9 L90.2 591.1 L91.0 589.3 L91.7 587.3 L92.5 585.2 L93.2 583.1 L94.0 580.7 L94.7 578.3 L95.5 575.7 L96.2 572.9 L97.0 570.0 L97.7 566.4 L98.5 562.7 L99.2 559.2 L100.0 556.3 L100.7 553.6 L101.5 551.0 L102.2 548.6 L103.0 546.1 L103.7 543.5 L104.5 540.7 L105.2 537.8 L106.0 535.1 L106.7 532.7 L107.5 530.8 L108.2 529.1 L109.0 527.7 L109.7 526.3 L110.5 524.8 L111.2 523.1 L112.0 521.2 L112.7 518.6 L113.5 515.2 L114.2 511.3 L115.0 507.5 L115.7 504.2 L116.5 501.1 L117.2 498.6 L118.0 496.7 L118.7 495.0 L119.5 493.4 L120.2 491.7 L121.0 490.0 L121.7 488.1 L122.5 486.3 L123.2 484.5 L124.0 482.7 L124.7 481.0 L125.5 479.3 L126.2 477.7 L127.0 476.1 L127.7 474.5 L128.4 472.9 L129.2 471.3 L129.9 469.7 L130.7 468.1 L131.4 466.4 L132.2 464.6 L132.9 462.9 L133.7 461.2 L134.4 459.5 L135.2 457.8 L135.9 456.1 L136.7 454.5 L137.4 452.8 L138.2 451.2 L138.9 449.6 L139.7 447.9 L140.4 446.2 L141.2 444.3 L141.9 442.4 L142.7 440.4 L143.4 438.4 L144.2 436.4 L144.9 434.5 L145.7 432.7 L146.4 431.1 L147.2 429.8 L147.9 428.7 L148.7 427.6 L149.4 426.5 L150.2 425.6 L150.9 424.9 L151.7 424.4 L152.4 424.2 L153.2 424.3 L153.9 424.4 L154.7 424.7 L155.4 424.9 L156.2 425.2 L156.9 425.5 L157.7 425.8 L158.4 426.1 L159.2 426.4 L159.9 426.8 L160.7 427.1 L161.4 427.4 L162.2 427.7 L162.9 427.9 L163.7 428.0 L164.4 427.7 L165.2 426.7 L165.9 425.4 L166.7 424.0 L167.4 422.0 L168.2 419.8 L168.9 417.9 L169.7 416.7 L170.4 416.6 L171.2 417.3 L171.9 418.5 L172.7 419.9 L173.4 421.2 L174.2 422.1 L174.9 423.2 L175.7 424.3 L176.4 425.1 L177.2 425.7 L177.9 425.8 L178.7 425.6 L179.4 425.3 L180.2 424.9 L180.9 424.6 L181.7 424.3 L182.4 424.2 L183.2 424.4 L183.9 424.9 L184.7 425.5 L185.4 426.3 L186.2 427.0 L186.9 427.8 L187.7 428.9 L188.4 430.0 L189.2 431.2 L189.9 432.3 L190.7 433.3 L191.4 434.0 L192.2 434.7 L192.9 435.3 L193.7 435.9 L194.4 436.5 L195.2 437.1 L195.9 437.7 L196.7 438.2 L197.4 438.8 L198.2 439.4 L198.9 440.0 L199.7 440.8 L200.4 441.6 L201.2 442.8 L201.9 444.1 L202.7 445.6 L203.4 447.1 L204.2 448.6 L204.9 450.1 L205.7 451.4 L206.4 452.8 L207.2 454.2 L207.9 455.5 L208.7 456.9 L209.4 458.3 L210.2 459.7 L210.9 461.1 L211.7 462.5 L212.4 464.0 L213.2 465.6 L213.9 467.2 L214.7 469.0 L215.4 470.8 L216.2 472.8 L216.9 474.8 L217.7 476.8 L218.4 478.7 L219.2 480.6 L219.9 482.2 L220.7 483.7 L221.4 485.0 L222.2 486.1 L222.9 487.0 L223.7 487.8 L224.4 488.6 L225.2 489.4 L225.9 490.3 L226.7 491.2 L227.4 492.4 L228.2 493.7 L228.9 495.1 L229.7 496.6 L230.4 498.4 L231.2 500.5 L231.9 502.8 L232.7 506.4 L233.4 511.2 L234.2 515.1 L234.9 517.3 L235.7 519.2 L236.4 520.7 L237.2 522.1 L237.9 523.4 L238.7 524.6 L239.4 525.6 L240.2 526.5 L240.9 527.3 L241.7 528.2 L242.4 529.1 L243.2 530.3 L243.9 531.7 L244.7 533.5 L245.4 535.6 L246.2 537.9 L246.9 540.2 L247.7 542.4 L248.4 544.7 L249.2 547.2 L249.9 549.7 L250.7 552.0 L251.4 554.1 L252.2 555.8 L252.9 557.3 L253.7 558.5 L254.4 559.7 L255.2 560.8 L255.9 561.9 L256.7 563.0 L257.4 564.1 L258.2 565.0 L258.9 566.0 L259.7 566.9 L260.4 568.0 L261.2 569.2 L261.9 570.6 L262.7 572.2 L263.4 573.9 L264.2 575.7 L264.9 577.6 L265.7 579.5 L266.4 581.5 L267.2 583.9 L267.9 586.3 L268.7 588.5 L269.4 590.3 L270.2 591.6 L270.9 592.6 L271.7 593.5 L272.4 594.3 L273.2 595.0 L273.9 595.7 L274.7 596.5 L275.4 597.4 L276.2 598.3 L276.9 599.1 L277.7 600.1 L278.4 601.1 L279.2 602.4 L279.9 604.0 L280.7 605.7 L281.4 607.6 L282.2 609.6 L282.9 611.6 L283.7 613.5 L284.4 615.3 L285.2 616.8 L285.9 618.1 L286.7 619.2 L287.4 620.1 L288.2 620.9 L288.9 621.6 L289.7 622.2 L290.4 622.9 L291.2 623.5 L291.9 624.1 L292.7 624.8 L293.4 625.5 L294.2 626.2 L294.9 627.1 L295.7 628.0 L296.4 629.0 L297.2 630.1 L297.9 631.2 L298.7 632.3 L299.4 633.5 L300.2 634.7 L300.9 635.9 L301.7 637.0 L302.4 638.1 L303.2 639.2 L303.9 640.2 L304.7 641.2 L305.4 642.3 L306.2 643.3 L306.9 644.3 L307.7 645.2 L308.4 646.2 L309.2 647.1 L309.9 647.9 L310.7 648.7 L311.4 649.4 L312.2 650.1 L312.9 650.7 L313.7 651.2 L314.4 651.7 L315.2 652.2 L315.9 652.7 L316.7 653.2 L317.4 653.8 L318.2 654.4 L318.9 655.0 L319.7 655.8 L320.4 656.7 L321.2 657.6 L321.9 658.6 L322.7 659.6 L323.4 660.6 L324.2 661.6 L324.9 662.6 L325.7 663.5 L326.4 664.3 L327.2 665.1 L327.9 665.8 L328.7 666.5 L329.4 667.1 L330.2 667.8 L330.9 668.4 L331.7 669.0 L332.4 669.6 L333.2 670.2 L333.9 670.7 L334.7 671.3 L335.4 671.8 L336.2 672.3 L336.9 672.8 L337.7 673.3 L338.4 673.8 L339.2 674.2 L339.9 674.7 L340.7 675.1 L341.4 675.5 L342.2 676.0 L342.9 676.4 L343.7 676.8 L344.4 677.2 L345.2 677.6 L345.9 678.0 L346.7 678.4 L347.4 678.8 L348.2 679.2 L348.9 679.6 L349.7 680.0 L350.4 680.4 L351.2 680.8 L351.9 681.2 L352.7 681.6 L353.4 682.0 L354.2 682.4 L354.9 682.8 L355.7 683.2 L356.4 683.5 L357.2 683.9 L357.9 684.3 L358.7 684.6 L359.4 685.0 L360.2 685.3 L360.9 685.6 L361.7 686.0 L362.4 686.3 L363.2 686.6 L363.9 686.9 L364.7 687.2 L365.4 687.5 L366.2 687.8 L366.9 688.1 L367.7 688.4 L368.4 688.7 L369.2 689.0 L369.9 689.3 L370.7 689.6 L371.4 689.8 L372.2 690.1 L372.9 690.3 L373.7 690.6 L374.4 690.9 L375.2 691.1 L375.9 691.4 L376.7 691.6 L377.4 691.8 L378.2 692.1 L378.9 692.3 L379.7 692.6 L380.4 692.8 L381.2 693.0 L381.9 693.3 L382.7 693.5 L383.4 693.7 L384.2 693.9 L384.9 694.1 L385.7 694.3 L386.4 694.5 L387.2 694.6 L387.9 694.8 L388.7 694.9 L389.4 695.1 L390.2 695.2 L390.9 695.3 L391.7 695.4 L392.4 695.6 L393.2 695.7 L393.9 695.8 L394.7 695.9 L395.4 696.0 L396.2 696.1 L396.9 696.2 L397.7 696.3 L398.4 696.3 L399.2 696.4 L399.9 696.5 L400.7 696.6 L401.4 696.7 L402.2 696.7 L402.9 696.8 L403.7 696.9 L404.4 696.9 L405.2 697.0 L405.9 697.1 L406.7 697.1 L407.4 697.2 L408.2 697.3 L408.9 697.3 L409.7 697.4 L410.4 697.4 L411.2 697.4 L411.9 697.4 L412.7 697.4 L413.4 697.4 L414.2 697.4 L414.9 697.4 L415.7 697.4 L416.4 697.4 L417.2 697.4 L417.9 697.4 L418.7 697.4 L419.4 697.4 L420.2 697.4 L420.9 697.4 L421.7 697.4 L422.4 697.4 L423.2 697.4 L423.9 697.4 L424.7 697.4 L425.4 697.4 L426.2 697.4 L426.9 697.4 L427.7 697.4 L428.4 697.4 L429.2 697.4 L429.9 697.4 L430.7 697.4 L431.4 697.4 L432.2 697.4 L432.9 697.4 L433.7 697.4 L434.4 697.4 L435.2 697.4 L435.9 697.4 L436.7 697.4 L437.4 697.4 L438.2 697.4 L438.9 697.4 L439.7 697.4 L440.4 697.4 L441.2 697.4 L441.9 697.4 L442.7 697.4 L443.4 697.4 L444.2 697.4 L444.9 697.4 L445.7 697.4 L446.4 697.4 L447.2 697.4 L447.9 697.4 L448.7 697.4 L449.4 697.4 L450.2 697.4 L450.9 697.4 L451.7 697.4 L452.4 697.4 L453.2 697.4 L453.9 697.4 L454.7 697.4" stroke="#FB6501" stroke-width="1.25"/>
<path d="M66.1 697.4 L66.3 692.9 L66.6 688.6 L66.8 684.4 L67.1 680.6 L67.3 677.0 L67.5 673.6 L67.8 670.5 L68.0 667.5 L68.3 664.6 L68.5 661.8 L68.7 659.1 L69.0 656.4 L69.2 653.6 L69.5 651.0 L69.7 648.4 L70.0 646.0 L70.2 643.9 L70.4 642.0 L70.7 640.2 L70.9 638.5 L71.2 636.8 L71.4 635.3 L71.6 633.8 L71.9 632.5 L72.1 631.3 L72.4 630.2 L72.6 629.2 L72.8 628.3 L73.1 627.5 L73.3 626.8 L73.6 626.1 L73.8 625.4 L74.0 624.8 L74.3 624.3 L74.5 623.7 L74.8 623.3 L75.0 622.8 L75.2 622.4 L75.5 622.0 L75.7 621.7 L76.0 621.4 L76.2 621.1 L76.4 620.8 L76.7 620.5 L76.9 620.2 L77.2 620.0 L77.4 619.7 L77.7 619.5 L77.9 619.2 L78.1 618.9 L78.4 618.6 L78.6 618.3 L78.9 618.0 L79.1 617.7 L79.3 617.3 L79.6 616.9 L79.8 616.4 L80.1 615.9 L80.3 615.3 L81.0 613.4 L81.8 611.3 L82.5 609.3 L83.3 607.5 L84.0 605.6 L84.8 603.8 L85.5 602.0 L86.3 600.4 L87.0 599.0 L87.8 597.7 L88.5 596.2 L89.3 594.6 L90.0 592.9 L90.8 591.1 L91.5 589.3 L92.3 587.3 L93.0 585.2 L93.8 583.1 L94.5 580.7 L95.3 578.3 L96.0 575.7 L96.8 572.9 L97.5 570.0 L98.3 566.4 L99.0 562.7 L99.8 559.2 L100.5 556.3 L101.3 553.6 L102.0 551.0 L102.8 548.6 L103.5 546.1 L104.3 543.5 L105.0 540.7 L105.8 537.8 L106.5 535.1 L107.3 532.7 L108.0 530.8 L108.8 529.1 L109.5 527.7 L110.3 526.3 L111.0 524.8 L111.8 523.1 L112.5 521.2 L113.3 518.6 L114.0 515.2 L114.8 511.3 L115.5 507.5 L116.3 504.2 L117.0 501.1 L117.8 498.6 L118.5 496.7 L119.3 495.0 L120.0 493.4 L120.8 491.7 L121.5 490.0 L122.3 488.1 L123.0 486.3 L123.8 484.5 L124.5 482.7 L125.3 481.0 L126.0 479.3 L126.8 477.7 L127.5 476.1 L128.3 474.5 L129.1 472.9 L129.8 471.3 L130.6 469.7 L131.3 468.1 L132.1 466.4 L132.8 464.6 L133.6 462.9 L134.3 461.2 L135.1 459.5 L135.8 457.8 L136.6 456.1 L137.3 454.5 L138.1 452.8 L138.8 451.2 L139.6 449.6 L140.3 447.9 L141.1 446.2 L141.8 444.3 L142.6 442.4 L143.3 440.4 L144.1 438.4 L144.8 436.4 L145.6 434.5 L146.3 432.7 L147.1 431.1 L147.8 429.8 L148.6 428.7 L149.3 427.6 L150.1 426.5 L150.8 425.6 L151.6 424.9 L152.3 424.4 L153.1 424.2 L153.8 424.3 L154.6 424.4 L155.3 424.7 L156.1 424.9 L156.8 425.2 L157.6 425.5 L158.3 425.8 L159.1 426.1 L159.8 426.4 L160.6 426.8 L161.3 427.1 L162.1 427.4 L162.8 427.7 L163.6 427.9 L164.3 428.0 L165.1 427.7 L165.8 426.7 L166.6 425.4 L167.3 424.0 L168.1 422.0 L168.8 419.8 L169.6 417.9 L170.3 416.7 L171.1 416.6 L171.8 417.3 L172.6 418.5 L173.3 419.9 L174.1 421.2 L174.8 422.1 L175.6 423.2 L176.3 424.3 L177.1 425.1 L177.8 425.7 L178.6 425.8 L179.3 425.6 L180.1 425.3 L180.8 424.9 L181.6 424.6 L182.3 424.3 L183.1 424.2 L183.8 424.4 L184.6 424.9 L185.3 425.5 L186.1 426.3 L186.8 427.0 L187.6 427.8 L188.3 428.9 L189.1 430.0 L189.8 431.2 L190.6 432.3 L191.3 433.3 L192.1 434.0 L192.8 434.7 L193.6 435.3 L194.3 435.9 L195.1 436.5 L195.8 437.1 L196.6 437.7 L197.3 438.2 L198.1 438.8 L198.8 439.4 L199.6 440.0 L200.3 440.8 L201.1 441.6 L201.8 442.8 L202.6 444.1 L203.3 445.6 L204.1 447.1 L204.8 448.6 L205.6 450.1 L206.3 451.4 L207.1 452.8 L207.8 454.2 L208.6 455.5 L209.3 456.9 L210.1 458.3 L210.8 459.7 L211.6 461.1 L212.3 462.5 L213.1 464.0 L213.8 465.6 L214.6 467.2 L215.3 469.0 L216.1 470.8 L216.8 472.8 L217.6 474.8 L218.3 476.8 L219.1 478.7 L219.8 480.6 L220.6 482.2 L221.3 483.7 L222.1 485.0 L222.8 486.1 L223.6 487.0 L224.3 487.8 L225.1 488.6 L225.8 489.4 L226.6 490.3 L227.3 491.2 L228.1 492.4 L228.8 493.7 L229.6 495.1 L230.3 496.6 L231.1 498.4 L231.8 500.5 L232.6 502.8 L233.3 506.4 L234.1 511.2 L234.8 515.1 L235.6 517.3 L236.3 519.2 L237.1 520.7 L237.8 522.1 L238.6 523.4 L239.3 524.6 L240.1 525.6 L240.8 526.5 L241.6 527.3 L242.3 528.2 L243.1 529.1 L243.8 530.3 L244.6 531.7 L245.3 533.5 L246.1 535.6 L246.8 537.9 L247.6 540.2 L248.3 542.4 L249.1 544.7 L249.8 547.2 L250.6 549.7 L251.3 552.0 L252.1 554.1 L252.8 555.8 L253.6 557.3 L254.3 558.5 L255.1 559.7 L255.8 560.8 L256.6 561.9 L257.3 563.0 L258.1 564.1 L258.8 565.0 L259.6 566.0 L260.3 566.9 L261.1 568.0 L261.8 569.2 L262.6 570.6 L263.3 572.2 L264.1 573.9 L264.8 575.7 L265.6 577.6 L266.3 579.5 L267.1 581.5 L267.8 583.9 L268.6 586.3 L269.3 588.5 L270.1 590.3 L270.8 591.6 L271.6 592.6 L272.3 593.5 L273.1 594.3 L273.8 595.0 L274.6 595.7 L275.3 596.5 L276.1 597.4 L276.8 598.3 L277.6 599.1 L278.3 600.1 L279.1 601.1 L279.8 602.4 L280.6 604.0 L281.3 605.7 L282.1 607.6 L282.8 609.6 L283.6 611.6 L284.3 613.5 L285.1 615.3 L285.8 616.8 L286.6 618.1 L287.3 619.2 L288.1 620.1 L288.8 620.9 L289.6 621.6 L290.3 622.2 L291.1 622.9 L291.8 623.5 L292.6 624.1 L293.3 624.8 L294.1 625.5 L294.8 626.2 L295.6 627.1 L296.3 628.0 L297.1 629.0 L297.8 630.1 L298.6 631.2 L299.3 632.3 L300.1 633.5 L300.8 634.7 L301.6 635.9 L302.3 637.0 L303.1 638.1 L303.8 639.2 L304.6 640.2 L305.3 641.2 L306.1 642.3 L306.8 643.3 L307.6 644.3 L308.3 645.2 L309.1 646.2 L309.8 647.1 L310.6 647.9 L311.3 648.7 L312.1 649.4 L312.8 650.1 L313.6 650.7 L314.3 651.2 L315.1 651.7 L315.8 652.2 L316.6 652.7 L317.3 653.2 L318.1 653.8 L318.8 654.4 L319.6 655.0 L320.3 655.8 L321.1 656.7 L321.8 657.6 L322.6 658.6 L323.3 659.6 L324.1 660.6 L324.8 661.6 L325.6 662.6 L326.3 663.5 L327.1 664.3 L327.8 665.1 L328.6 665.8 L329.3 666.5 L330.1 667.1 L330.8 667.8 L331.6 668.4 L332.3 669.0 L333.1 669.6 L333.8 670.2 L334.6 670.7 L335.3 671.3 L336.1 671.8 L336.8 672.3 L337.6 672.8 L338.3 673.3 L339.1 673.8 L339.8 674.2 L340.6 674.7 L341.3 675.1 L342.1 675.5 L342.8 676.0 L343.6 676.4 L344.3 676.8 L345.1 677.2 L345.8 677.6 L346.6 678.0 L347.3 678.4 L348.1 678.8 L348.8 679.2 L349.6 679.6 L350.3 680.0 L351.1 680.4 L351.8 680.8 L352.6 681.2 L353.3 681.6 L354.1 682.0 L354.8 682.4 L355.6 682.8 L356.3 683.2 L357.1 683.5 L357.8 683.9 L358.6 684.3 L359.3 684.6 L360.1 685.0 L360.8 685.3 L361.6 685.6 L362.3 686.0 L363.1 686.3 L363.8 686.6 L364.6 686.9 L365.3 687.2 L366.1 687.5 L366.8 687.8 L367.6 688.1 L368.3 688.4 L369.1 688.7 L369.8 689.0 L370.6 689.3 L371.3 689.6 L372.1 689.8 L372.8 690.1 L373.6 690.3 L374.3 690.6 L375.1 690.9 L375.8 691.1 L376.6 691.4 L377.3 691.6 L378.1 691.8 L378.8 692.1 L379.6 692.3 L380.3 692.6 L381.1 692.8 L381.8 693.0 L382.6 693.3 L383.3 693.5 L384.1 693.7 L384.8 693.9 L385.6 694.1 L386.3 694.3 L387.1 694.5 L387.8 694.6 L388.6 694.8 L389.3 694.9 L390.1 695.1 L390.8 695.2 L391.6 695.3 L392.3 695.4 L393.1 695.6 L393.8 695.7 L394.6 695.8 L395.3 695.9 L396.1 696.0 L396.8 696.1 L397.6 696.2 L398.3 696.3 L399.1 696.3 L399.8 696.4 L400.6 696.5 L401.3 696.6 L402.1 696.7 L402.8 696.7 L403.6 696.8 L404.3 696.9 L405.1 696.9 L405.8 697.0 L406.6 697.1 L407.3 697.1 L408.1 697.2 L408.8 697.3 L409.6 697.3 L410.3 697.4 L411.1 697.4 L411.8 697.4 L412.6 697.4 L413.3 697.4 L414.1 697.4 L414.8 697.4 L415.6 697.4 L416.3 697.4 L417.1 697.4 L417.8 697.4 L418.6 697.4 L419.3 697.4 L420.1 697.4 L420.8 697.4 L421.6 697.4 L422.3 697.4 L423.1 697.4 L423.8 697.4 L424.6 697.4 L425.3 697.4 L426.1 697.4 L426.8 697.4 L427.6 697.4 L428.3 697.4 L429.1 697.4 L429.8 697.4 L430.6 697.4 L431.3 697.4 L432.1 697.4 L432.8 697.4 L433.6 697.4 L434.3 697.4 L435.1 697.4 L435.8 697.4 L436.6 697.4 L437.3 697.4 L438.1 697.4 L438.8 697.4 L439.6 697.4 L440.3 697.4 L441.1 697.4 L441.8 697.4 L442.6 697.4 L443.3 697.4 L444.1 697.4 L444.8 697.4 L445.6 697.4 L446.3 697.4 L447.1 697.4 L447.8 697.4 L448.6 697.4 L449.3 697.4 L450.1 697.4 L450.8 697.4 L451.6 697.4 L452.3 697.4 L453.1 697.4 L453.8 697.4 L454.6 697.4 L455.3 697.4" stroke="#6699CC" stroke-width="1.25"/>
<path d="M65.8 697.4 L66.0 692.9 L66.3 688.6 L66.5 684.4 L66.8 680.6 L67.0 677.0 L67.2 673.6 L67.5 670.5 L67.7 667.5 L68.0 664.6 L68.2 661.8 L68.4 659.1 L68.7 656.4 L68.9 653.6 L69.2 651.0 L69.4 648.4 L69.7 646.0 L69.9 643.9 L70.1 642.0 L70.4 640.2 L70.6 638.5 L70.9 636.8 L71.1 635.3 L71.3 633.8 L71.6 632.5 L71.8 631.3 L72.1 630.2 L72.3 629.2 L72.5 628.3 L72.8 627.5 L73.0 626.8 L73.3 626.1 L73.5 625.4 L73.7 624.8 L74.0 624.3 L74.2 623.7 L74.5 623.3 L74.7 622.8 L74.9 622.4 L75.2 622.0 L75.4 621.7 L75.7 621.4 L75.9 621.1 L76.1 620.8 L76.4 620.5 L76.6 620.2 L76.9 620.0 L77.1 619.7 L77.4 619.5 L77.6 619.2 L77.8 618.9 L78.1 618.6 L78.3 618.3 L78.6 618.0 L78.8 617.7 L79.0 617.3 L79.3 616.9 L79.5 616.4 L79.8 615.9 L80.0 615.3 L80.8 613.4 L81.5 611.3 L82.2 609.3 L83.0 607.5 L83.8 605.6 L84.5 603.8 L85.2 602.0 L86.0 600.4 L86.8 599.0 L87.5 597.7 L88.2 596.2 L89.0 594.6 L89.8 592.9 L90.5 591.1 L91.2 589.3 L92.0 587.3 L92.8 585.2 L93.5 583.1 L94.2 580.7 L95.0 578.3 L95.8 575.7 L96.5 572.9 L97.2 570.0 L98.0 566.4 L98.8 562.7 L99.5 559.2 L100.2 556.3 L101.0 553.6 L101.8 551.0 L102.5 548.6 L103.2 546.1 L104.0 543.5 L104.8 540.7 L105.5 537.8 L106.2 535.1 L107.0 532.7 L107.8 530.8 L108.5 529.1 L109.2 527.7 L110.0 526.3 L110.8 524.8 L111.5 523.1 L112.2 521.2 L113.0 518.6 L113.8 515.2 L114.5 511.3 L115.2 507.5 L116.0 504.2 L116.8 501.1 L117.5 498.6 L118.2 496.7 L119.0 495.0 L119.8 493.4 L120.5 491.7 L121.2 490.0 L122.0 488.1 L122.8 486.3 L123.5 484.5 L124.2 482.7 L125.0 481.0 L125.8 479.3 L126.5 477.7 L127.2 476.1 L128.0 474.5 L128.8 472.9 L129.5 471.3 L130.2 469.7 L131.0 468.1 L131.8 466.4 L132.5 464.6 L133.2 462.9 L134.0 461.2 L134.8 459.5 L135.5 457.8 L136.2 456.1 L137.0 454.5 L137.8 452.8 L138.5 451.2 L139.2 449.6 L140.0 447.9 L140.8 446.2 L141.5 444.3 L142.2 442.4 L143.0 440.4 L143.8 438.4 L144.5 436.4 L145.2 434.5 L146.0 432.7 L146.8 431.1 L147.5 429.8 L148.2 428.7 L149.0 427.6 L149.8 426.5 L150.5 425.6 L151.2 424.9 L152.0 424.4 L152.8 424.2 L153.5 424.3 L154.2 424.4 L155.0 424.7 L155.8 424.9 L156.5 425.2 L157.2 425.5 L158.0 425.8 L158.8 426.1 L159.5 426.4 L160.2 426.8 L161.0 427.1 L161.8 427.4 L162.5 427.7 L163.2 427.9 L164.0 428.0 L164.8 427.7 L165.5 426.7 L166.2 425.4 L167.0 424.0 L167.8 422.0 L168.5 419.8 L169.2 417.9 L170.0 416.7 L170.8 416.6 L171.5 417.3 L172.2 418.5 L173.0 419.9 L173.8 421.2 L174.5 422.1 L175.2 423.2 L176.0 424.3 L176.8 425.1 L177.5 425.7 L178.2 425.8 L179.0 425.6 L179.8 425.3 L180.5 424.9 L181.2 424.6 L182.0 424.3 L182.8 424.2 L183.5 424.4 L184.2 424.9 L185.0 425.5 L185.8 426.3 L186.5 427.0 L187.2 427.8 L188.0 428.9 L188.8 430.0 L189.5 431.2 L190.2 432.3 L191.0 433.3 L191.8 434.0 L192.5 434.7 L193.2 435.3 L194.0 435.9 L194.8 436.5 L195.5 437.1 L196.2 437.7 L197.0 438.2 L197.8 438.8 L198.5 439.4 L199.2 440.0 L200.0 440.8 L200.8 441.6 L201.5 442.8 L202.2 444.1 L203.0 445.6 L203.8 447.1 L204.5 448.6 L205.2 450.1 L206.0 451.4 L206.8 452.8 L207.5 454.2 L208.2 455.5 L209.0 456.9 L209.8 458.3 L210.5 459.7 L211.2 461.1 L212.0 462.5 L212.8 464.0 L213.5 465.6 L214.2 467.2 L215.0 469.0 L215.8 470.8 L216.5 472.8 L217.2 474.8 L218.0 476.8 L218.8 478.7 L219.5 480.6 L220.2 482.2 L221.0 483.7 L221.8 485.0 L222.5 486.1 L223.2 487.0 L224.0 487.8 L224.8 488.6 L225.5 489.4 L226.2 490.3 L227.0 491.2 L227.8 492.4 L228.5 493.7 L229.2 495.1 L230.0 496.6 L230.8 498.4 L231.5 500.5 L232.2 502.8 L233.0 506.4 L233.8 511.2 L234.5 515.1 L235.2 517.3 L236.0 519.2 L236.8 520.7 L237.5 522.1 L238.2 523.4 L239.0 524.6 L239.8 525.6 L240.5 526.5 L241.2 527.3 L242.0 528.2 L242.8 529.1 L243.5 530.3 L244.2 531.7 L245.0 533.5 L245.8 535.6 L246.5 537.9 L247.2 540.2 L248.0 542.4 L248.8 544.7 L249.5 547.2 L250.2 549.7 L251.0 552.0 L251.8 554.1 L252.5 555.8 L253.2 557.3 L254.0 558.5 L254.8 559.7 L255.5 560.8 L256.2 561.9 L257.0 563.0 L257.8 564.1 L258.5 565.0 L259.2 566.0 L260.0 566.9 L260.8 568.0 L261.5 569.2 L262.2 570.6 L263.0 572.2 L263.8 573.9 L264.5 575.7 L265.2 577.6 L266.0 579.5 L266.8 581.5 L267.5 583.9 L268.2 586.3 L269.0 588.5 L269.8 590.3 L270.5 591.6 L271.2 592.6 L272.0 593.5 L272.8 594.3 L273.5 595.0 L274.2 595.7 L275.0 596.5 L275.8 597.4 L276.5 598.3 L277.2 599.1 L278.0 600.1 L278.8 601.1 L279.5 602.4 L280.2 604.0 L281.0 605.7 L281.8 607.6 L282.5 609.6 L283.2 611.6 L284.0 613.5 L284.8 615.3 L285.5 616.8 L286.2 618.1 L287.0 619.2 L287.8 620.1 L288.5 620.9 L289.2 621.6 L290.0 622.2 L290.8 622.9 L291.5 623.5 L292.2 624.1 L293.0 624.8 L293.8 625.5 L294.5 626.2 L295.2 627.1 L296.0 628.0 L296.8 629.0 L297.5 630.1 L298.2 631.2 L299.0 632.3 L299.8 633.5 L300.5 634.7 L301.2 635.9 L302.0 637.0 L302.8 638.1 L303.5 639.2 L304.2 640.2 L305.0 641.2 L305.8 642.3 L306.5 643.3 L307.2 644.3 L308.0 645.2 L308.8 646.2 L309.5 647.1 L310.2 647.9 L311.0 648.7 L311.8 649.4 L312.5 650.1 L313.2 650.7 L314.0 651.2 L314.8 651.7 L315.5 652.2 L316.2 652.7 L317.0 653.2 L317.8 653.8 L318.5 654.4 L319.2 655.0 L320.0 655.8 L320.8 656.7 L321.5 657.6 L322.2 658.6 L323.0 659.6 L323.8 660.6 L324.5 661.6 L325.2 662.6 L326.0 663.5 L326.8 664.3 L327.5 665.1 L328.2 665.8 L329.0 666.5 L329.8 667.1 L330.5 667.8 L331.2 668.4 L332.0 669.0 L332.8 669.6 L333.5 670.2 L334.2 670.7 L335.0 671.3 L335.8 671.8 L336.5 672.3 L337.2 672.8 L338.0 673.3 L338.8 673.8 L339.5 674.2 L340.2 674.7 L341.0 675.1 L341.8 675.5 L342.5 676.0 L343.2 676.4 L344.0 676.8 L344.8 677.2 L345.5 677.6 L346.2 678.0 L347.0 678.4 L347.8 678.8 L348.5 679.2 L349.2 679.6 L350.0 680.0 L350.8 680.4 L351.5 680.8 L352.2 681.2 L353.0 681.6 L353.8 682.0 L354.5 682.4 L355.2 682.8 L356.0 683.2 L356.8 683.5 L357.5 683.9 L358.2 684.3 L359.0 684.6 L359.8 685.0 L360.5 685.3 L361.2 685.6 L362.0 686.0 L362.8 686.3 L363.5 686.6 L364.2 686.9 L365.0 687.2 L365.8 687.5 L366.5 687.8 L367.2 688.1 L368.0 688.4 L368.8 688.7 L369.5 689.0 L370.2 689.3 L371.0 689.6 L371.8 689.8 L372.5 690.1 L373.2 690.3 L374.0 690.6 L374.8 690.9 L375.5 691.1 L376.2 691.4 L377.0 691.6 L377.8 691.8 L378.5 692.1 L379.2 692.3 L380.0 692.6 L380.8 692.8 L381.5 693.0 L382.2 693.3 L383.0 693.5 L383.8 693.7 L384.5 693.9 L385.2 694.1 L386.0 694.3 L386.8 694.5 L387.5 694.6 L388.2 694.8 L389.0 694.9 L389.8 695.1 L390.5 695.2 L391.2 695.3 L392.0 695.4 L392.8 695.6 L393.5 695.7 L394.2 695.8 L395.0 695.9 L395.8 696.0 L396.5 696.1 L397.2 696.2 L398.0 696.3 L398.8 696.3 L399.5 696.4 L400.2 696.5 L401.0 696.6 L401.8 696.7 L402.5 696.7 L403.2 696.8 L404.0 696.9 L404.8 696.9 L405.5 697.0 L406.2 697.1 L407.0 697.1 L407.8 697.2 L408.5 697.3 L409.2 697.3 L410.0 697.4 L410.8 697.4 L411.5 697.4 L412.2 697.4 L413.0 697.4 L413.8 697.4 L414.5 697.4 L415.2 697.4 L416.0 697.4 L416.8 697.4 L417.5 697.4 L418.2 697.4 L419.0 697.4 L419.8 697.4 L420.5 697.4 L421.2 697.4 L422.0 697.4 L422.8 697.4 L423.5 697.4 L424.2 697.4 L425.0 697.4 L425.8 697.4 L426.5 697.4 L427.2 697.4 L428.0 697.4 L428.8 697.4 L429.5 697.4 L430.2 697.4 L431.0 697.4 L431.8 697.4 L432.5 697.4 L433.2 697.4 L434.0 697.4 L434.8 697.4 L435.5 697.4 L436.2 697.4 L437.0 697.4 L437.8 697.4 L438.5 697.4 L439.2 697.4 L440.0 697.4 L440.8 697.4 L441.5 697.4 L442.2 697.4 L443.0 697.4 L443.8 697.4 L444.5 697.4 L445.2 697.4 L446.0 697.4 L446.8 697.4 L447.5 697.4 L448.2 697.4 L449.0 697.4 L449.8 697.4 L450.5 697.4 L451.2 697.4 L452.0 697.4 L452.8 697.4 L453.5 697.4 L454.2 697.4 L455.0 697.4" stroke="#D02CB4" stroke-width="1.75"/>
</g>
<g stroke="#2b2b2b" stroke-width="1.25" fill="none">
<rect x="65.8" y="391.6" width="412.2" height="305.9"/>
<path d="M65.8 697.50h5M65.8 678.38h3M65.8 659.26h5M65.8 640.14h3M65.8 621.02h5M65.8 601.91h3M65.8 582.79h5M65.8 563.67h3M65.8 544.55h5M65.8 525.43h3M65.8 506.31h5M65.8 487.19h3M65.8 468.08h5M65.8 448.96h3M65.8 429.84h5M65.8 410.72h3M65.8 391.60h5M65.80 697.5v-5M95.24 697.5v-3M124.69 697.5v-5M154.13 697.5v-3M183.57 697.5v-5M213.01 697.5v-3M242.46 697.5v-5M271.90 697.5v-3M301.34 697.5v-5M330.79 697.5v-3M360.23 697.5v-5M389.67 697.5v-3M419.11 697.5v-5M448.56 697.5v-3M478.00 697.5v-5"/>
</g>
<g style="font-family:'Liberation Serif',serif;font-size:11.4px" fill="#111">
<path d="M282 402.6H306.5" stroke="#515151" stroke-width="1.4"/>
<text x="309" y="406.6">The <tspan dy="-4.5" font-size="7">63</tspan><tspan dy="4.5">Ni incident energy spectrum</tspan></text>
<path d="M282 416.8H306.5" stroke="#F14040" stroke-width="1.4"/>
<text x="309" y="420.8">2.00E-07(cm)</text>
<path d="M282 431.0H306.5" stroke="#1A6FDF" stroke-width="1.4"/>
<text x="309" y="435.0">4.01E-07(cm)</text>
<path d="M282 445.3H306.5" stroke="#37AD6B" stroke-width="1.4"/>
<text x="309" y="449.3">2.00E-06(cm)</text>
<path d="M282 459.5H306.5" stroke="#B177DE" stroke-width="1.4"/>
<text x="309" y="463.5">8.01E-06(cm)</text>
<path d="M282 473.7H306.5" stroke="#CC9900" stroke-width="1.4"/>
<text x="309" y="477.7">2.00E-05(cm)</text>
<path d="M282 487.9H306.5" stroke="#00CBCC" stroke-width="1.4"/>
<text x="309" y="491.9">4.81E-05(cm)</text>
<path d="M282 502.1H306.5" stroke="#7D4E4E" stroke-width="1.4"/>
<text x="309" y="506.1">7.21E-05(cm)</text>
<path d="M282 516.4H306.5" stroke="#8E8E00" stroke-width="1.4"/>
<text x="309" y="520.4">2.00E-04(cm)</text>
<path d="M282 530.6H306.5" stroke="#FB6501" stroke-width="1.4"/>
<text x="309" y="534.6">4.41E-04(cm)</text>
<path d="M282 544.8H306.5" stroke="#6699CC" stroke-width="1.4"/>
<text x="309" y="548.8">8.01E-04(cm)</text>
<path d="M282 559.0H306.5" stroke="#D02CB4" stroke-width="1.4"/>
<text x="309" y="563.0">0.001(cm)</text>
</g>
</svg>
</body></html>
